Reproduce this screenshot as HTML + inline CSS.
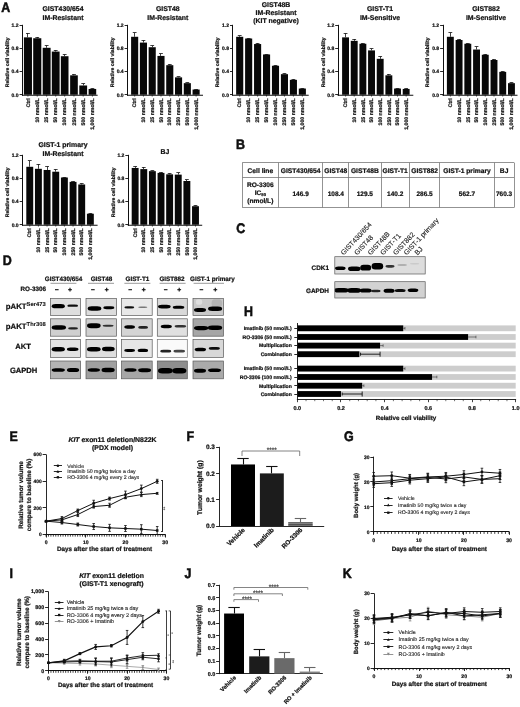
<!DOCTYPE html>
<html><head><meta charset="utf-8"><title>Figure</title>
<style>
html,body{margin:0;padding:0;background:#fff;}
svg{display:block;font-family:"Liberation Sans",sans-serif;text-rendering:geometricPrecision;}
text{paint-order:stroke;}
</style></head><body>
<svg width="520" height="707" viewBox="0 0 520 707">
<defs>
<filter id="b1" x="-20%" y="-50%" width="140%" height="200%"><feGaussianBlur stdDeviation="0.65"/></filter>
<filter id="b2" x="-20%" y="-50%" width="140%" height="200%"><feGaussianBlur stdDeviation="1.0"/></filter>
<filter id="soft"><feGaussianBlur stdDeviation="0.3"/></filter>
</defs>
<rect width="520" height="707" fill="#fff"/>
<g>
<line x1="22.50" y1="24.80" x2="22.50" y2="95.75" stroke="#111" stroke-width="1.0"/>
<line x1="21.95" y1="95.20" x2="97.65" y2="95.20" stroke="#111" stroke-width="1.1"/>
<line x1="19.55" y1="25.50" x2="22.45" y2="25.50" stroke="#111" stroke-width="0.9"/>
<line x1="19.55" y1="48.50" x2="22.45" y2="48.50" stroke="#111" stroke-width="0.9"/>
<line x1="19.55" y1="71.50" x2="22.45" y2="71.50" stroke="#111" stroke-width="0.9"/>
<line x1="19.55" y1="94.50" x2="22.45" y2="94.50" stroke="#111" stroke-width="0.9"/>
<rect x="23.90" y="37.37" width="8.06" height="57.38" fill="#080808"/>
<line x1="27.50" y1="37.37" x2="27.50" y2="33.31" stroke="#111" stroke-width="0.8"/>
<line x1="26.03" y1="33.50" x2="29.83" y2="33.50" stroke="#111" stroke-width="0.8"/>
<line x1="27.93" y1="94.75" x2="27.93" y2="96.55" stroke="#111" stroke-width="0.7"/>
<rect x="33.20" y="38.24" width="8.10" height="56.51" fill="#080808"/>
<line x1="37.50" y1="38.24" x2="37.50" y2="37.08" stroke="#111" stroke-width="0.8"/>
<line x1="35.35" y1="37.50" x2="39.15" y2="37.50" stroke="#111" stroke-width="0.8"/>
<line x1="37.25" y1="94.75" x2="37.25" y2="96.55" stroke="#111" stroke-width="0.7"/>
<rect x="42.70" y="47.80" width="7.90" height="46.95" fill="#080808"/>
<line x1="46.50" y1="47.80" x2="46.50" y2="45.49" stroke="#111" stroke-width="0.8"/>
<line x1="44.75" y1="45.50" x2="48.55" y2="45.50" stroke="#111" stroke-width="0.8"/>
<line x1="46.65" y1="94.75" x2="46.65" y2="96.55" stroke="#111" stroke-width="0.7"/>
<rect x="51.80" y="51.57" width="7.80" height="43.18" fill="#080808"/>
<line x1="55.50" y1="51.57" x2="55.50" y2="50.41" stroke="#111" stroke-width="0.8"/>
<line x1="53.80" y1="50.50" x2="57.60" y2="50.50" stroke="#111" stroke-width="0.8"/>
<line x1="55.70" y1="94.75" x2="55.70" y2="96.55" stroke="#111" stroke-width="0.7"/>
<rect x="60.85" y="56.21" width="7.65" height="38.54" fill="#080808"/>
<line x1="64.50" y1="56.21" x2="64.50" y2="54.47" stroke="#111" stroke-width="0.8"/>
<line x1="62.77" y1="54.50" x2="66.58" y2="54.50" stroke="#111" stroke-width="0.8"/>
<line x1="64.67" y1="94.75" x2="64.67" y2="96.55" stroke="#111" stroke-width="0.7"/>
<rect x="70.15" y="75.33" width="7.65" height="19.42" fill="#080808"/>
<line x1="73.50" y1="75.33" x2="73.50" y2="74.46" stroke="#111" stroke-width="0.8"/>
<line x1="72.07" y1="74.50" x2="75.88" y2="74.50" stroke="#111" stroke-width="0.8"/>
<line x1="73.97" y1="94.75" x2="73.97" y2="96.55" stroke="#111" stroke-width="0.7"/>
<rect x="79.30" y="85.48" width="7.80" height="9.27" fill="#080808"/>
<line x1="83.50" y1="85.48" x2="83.50" y2="83.74" stroke="#111" stroke-width="0.8"/>
<line x1="81.30" y1="83.50" x2="85.10" y2="83.50" stroke="#111" stroke-width="0.8"/>
<line x1="83.20" y1="94.75" x2="83.20" y2="96.55" stroke="#111" stroke-width="0.7"/>
<rect x="88.60" y="88.95" width="7.60" height="5.80" fill="#080808"/>
<line x1="92.50" y1="88.95" x2="92.50" y2="88.49" stroke="#111" stroke-width="0.8"/>
<line x1="90.50" y1="88.50" x2="94.30" y2="88.50" stroke="#111" stroke-width="0.8"/>
<line x1="92.40" y1="94.75" x2="92.40" y2="96.55" stroke="#111" stroke-width="0.7"/>
<line x1="127.50" y1="24.80" x2="127.50" y2="95.75" stroke="#111" stroke-width="1.0"/>
<line x1="127.00" y1="95.20" x2="203.00" y2="95.20" stroke="#111" stroke-width="1.1"/>
<line x1="124.60" y1="25.50" x2="127.50" y2="25.50" stroke="#111" stroke-width="0.9"/>
<line x1="124.60" y1="48.50" x2="127.50" y2="48.50" stroke="#111" stroke-width="0.9"/>
<line x1="124.60" y1="71.50" x2="127.50" y2="71.50" stroke="#111" stroke-width="0.9"/>
<line x1="124.60" y1="94.50" x2="127.50" y2="94.50" stroke="#111" stroke-width="0.9"/>
<rect x="131.10" y="36.79" width="7.10" height="57.96" fill="#080808"/>
<line x1="134.50" y1="36.79" x2="134.50" y2="32.73" stroke="#111" stroke-width="0.8"/>
<line x1="132.75" y1="32.50" x2="136.55" y2="32.50" stroke="#111" stroke-width="0.8"/>
<line x1="134.65" y1="94.75" x2="134.65" y2="96.55" stroke="#111" stroke-width="0.7"/>
<rect x="139.88" y="42.59" width="7.10" height="52.16" fill="#080808"/>
<line x1="143.50" y1="42.59" x2="143.50" y2="40.27" stroke="#111" stroke-width="0.8"/>
<line x1="141.53" y1="40.50" x2="145.33" y2="40.50" stroke="#111" stroke-width="0.8"/>
<line x1="143.43" y1="94.75" x2="143.43" y2="96.55" stroke="#111" stroke-width="0.7"/>
<rect x="148.66" y="47.22" width="7.10" height="47.53" fill="#080808"/>
<line x1="152.50" y1="47.22" x2="152.50" y2="45.78" stroke="#111" stroke-width="0.8"/>
<line x1="150.31" y1="45.50" x2="154.11" y2="45.50" stroke="#111" stroke-width="0.8"/>
<line x1="152.21" y1="94.75" x2="152.21" y2="96.55" stroke="#111" stroke-width="0.7"/>
<rect x="157.44" y="55.92" width="7.10" height="38.83" fill="#080808"/>
<line x1="160.50" y1="55.92" x2="160.50" y2="53.89" stroke="#111" stroke-width="0.8"/>
<line x1="159.09" y1="53.50" x2="162.89" y2="53.50" stroke="#111" stroke-width="0.8"/>
<line x1="160.99" y1="94.75" x2="160.99" y2="96.55" stroke="#111" stroke-width="0.7"/>
<rect x="166.22" y="65.19" width="7.10" height="29.56" fill="#080808"/>
<line x1="169.50" y1="65.19" x2="169.50" y2="64.32" stroke="#111" stroke-width="0.8"/>
<line x1="167.87" y1="64.50" x2="171.67" y2="64.50" stroke="#111" stroke-width="0.8"/>
<line x1="169.77" y1="94.75" x2="169.77" y2="96.55" stroke="#111" stroke-width="0.7"/>
<rect x="175.00" y="77.36" width="7.10" height="17.39" fill="#080808"/>
<line x1="178.50" y1="77.36" x2="178.50" y2="76.90" stroke="#111" stroke-width="0.8"/>
<line x1="176.65" y1="76.50" x2="180.45" y2="76.50" stroke="#111" stroke-width="0.8"/>
<line x1="178.55" y1="94.75" x2="178.55" y2="96.55" stroke="#111" stroke-width="0.7"/>
<rect x="183.78" y="83.16" width="7.10" height="11.59" fill="#080808"/>
<line x1="187.50" y1="83.16" x2="187.50" y2="82.69" stroke="#111" stroke-width="0.8"/>
<line x1="185.43" y1="82.50" x2="189.23" y2="82.50" stroke="#111" stroke-width="0.8"/>
<line x1="187.33" y1="94.75" x2="187.33" y2="96.55" stroke="#111" stroke-width="0.7"/>
<rect x="192.56" y="89.53" width="7.10" height="5.22" fill="#080808"/>
<line x1="196.50" y1="89.53" x2="196.50" y2="89.07" stroke="#111" stroke-width="0.8"/>
<line x1="194.21" y1="89.50" x2="198.01" y2="89.50" stroke="#111" stroke-width="0.8"/>
<line x1="196.11" y1="94.75" x2="196.11" y2="96.55" stroke="#111" stroke-width="0.7"/>
<line x1="232.50" y1="24.80" x2="232.50" y2="95.75" stroke="#111" stroke-width="1.0"/>
<line x1="232.40" y1="95.20" x2="308.70" y2="95.20" stroke="#111" stroke-width="1.1"/>
<line x1="230.00" y1="25.50" x2="232.90" y2="25.50" stroke="#111" stroke-width="0.9"/>
<line x1="230.00" y1="48.50" x2="232.90" y2="48.50" stroke="#111" stroke-width="0.9"/>
<line x1="230.00" y1="71.50" x2="232.90" y2="71.50" stroke="#111" stroke-width="0.9"/>
<line x1="230.00" y1="94.50" x2="232.90" y2="94.50" stroke="#111" stroke-width="0.9"/>
<rect x="236.15" y="36.79" width="7.10" height="57.96" fill="#080808"/>
<line x1="239.50" y1="36.79" x2="239.50" y2="35.92" stroke="#111" stroke-width="0.8"/>
<line x1="237.80" y1="35.50" x2="241.60" y2="35.50" stroke="#111" stroke-width="0.8"/>
<line x1="239.70" y1="94.75" x2="239.70" y2="96.55" stroke="#111" stroke-width="0.7"/>
<rect x="245.10" y="38.53" width="7.10" height="56.22" fill="#080808"/>
<line x1="248.50" y1="38.53" x2="248.50" y2="38.07" stroke="#111" stroke-width="0.8"/>
<line x1="246.75" y1="38.50" x2="250.55" y2="38.50" stroke="#111" stroke-width="0.8"/>
<line x1="248.65" y1="94.75" x2="248.65" y2="96.55" stroke="#111" stroke-width="0.7"/>
<rect x="254.05" y="44.04" width="7.10" height="50.71" fill="#080808"/>
<line x1="257.50" y1="44.04" x2="257.50" y2="43.17" stroke="#111" stroke-width="0.8"/>
<line x1="255.70" y1="43.50" x2="259.50" y2="43.50" stroke="#111" stroke-width="0.8"/>
<line x1="257.60" y1="94.75" x2="257.60" y2="96.55" stroke="#111" stroke-width="0.7"/>
<rect x="263.00" y="54.47" width="7.10" height="40.28" fill="#080808"/>
<line x1="266.50" y1="54.47" x2="266.50" y2="54.01" stroke="#111" stroke-width="0.8"/>
<line x1="264.65" y1="54.50" x2="268.45" y2="54.50" stroke="#111" stroke-width="0.8"/>
<line x1="266.55" y1="94.75" x2="266.55" y2="96.55" stroke="#111" stroke-width="0.7"/>
<rect x="271.95" y="65.77" width="7.10" height="28.98" fill="#080808"/>
<line x1="275.50" y1="65.77" x2="275.50" y2="65.31" stroke="#111" stroke-width="0.8"/>
<line x1="273.60" y1="65.50" x2="277.40" y2="65.50" stroke="#111" stroke-width="0.8"/>
<line x1="275.50" y1="94.75" x2="275.50" y2="96.55" stroke="#111" stroke-width="0.7"/>
<rect x="280.90" y="74.17" width="7.10" height="20.58" fill="#080808"/>
<line x1="284.50" y1="74.17" x2="284.50" y2="73.60" stroke="#111" stroke-width="0.8"/>
<line x1="282.55" y1="73.50" x2="286.35" y2="73.50" stroke="#111" stroke-width="0.8"/>
<line x1="284.45" y1="94.75" x2="284.45" y2="96.55" stroke="#111" stroke-width="0.7"/>
<rect x="289.85" y="79.85" width="7.10" height="14.90" fill="#080808"/>
<line x1="293.50" y1="79.85" x2="293.50" y2="79.16" stroke="#111" stroke-width="0.8"/>
<line x1="291.50" y1="79.50" x2="295.30" y2="79.50" stroke="#111" stroke-width="0.8"/>
<line x1="293.40" y1="94.75" x2="293.40" y2="96.55" stroke="#111" stroke-width="0.7"/>
<rect x="298.80" y="88.55" width="7.10" height="6.20" fill="#080808"/>
<line x1="302.50" y1="88.55" x2="302.50" y2="88.08" stroke="#111" stroke-width="0.8"/>
<line x1="300.45" y1="88.50" x2="304.25" y2="88.50" stroke="#111" stroke-width="0.8"/>
<line x1="302.35" y1="94.75" x2="302.35" y2="96.55" stroke="#111" stroke-width="0.7"/>
<line x1="338.50" y1="24.80" x2="338.50" y2="95.75" stroke="#111" stroke-width="1.0"/>
<line x1="337.60" y1="95.20" x2="413.30" y2="95.20" stroke="#111" stroke-width="1.1"/>
<line x1="335.20" y1="25.50" x2="338.10" y2="25.50" stroke="#111" stroke-width="0.9"/>
<line x1="335.20" y1="48.50" x2="338.10" y2="48.50" stroke="#111" stroke-width="0.9"/>
<line x1="335.20" y1="71.50" x2="338.10" y2="71.50" stroke="#111" stroke-width="0.9"/>
<line x1="335.20" y1="94.50" x2="338.10" y2="94.50" stroke="#111" stroke-width="0.9"/>
<rect x="342.10" y="37.37" width="6.90" height="57.38" fill="#080808"/>
<line x1="345.50" y1="37.37" x2="345.50" y2="33.31" stroke="#111" stroke-width="0.8"/>
<line x1="343.65" y1="33.50" x2="347.45" y2="33.50" stroke="#111" stroke-width="0.8"/>
<line x1="345.55" y1="94.75" x2="345.55" y2="96.55" stroke="#111" stroke-width="0.7"/>
<rect x="350.76" y="40.85" width="6.90" height="53.90" fill="#080808"/>
<line x1="354.50" y1="40.85" x2="354.50" y2="39.11" stroke="#111" stroke-width="0.8"/>
<line x1="352.31" y1="39.50" x2="356.11" y2="39.50" stroke="#111" stroke-width="0.8"/>
<line x1="354.21" y1="94.75" x2="354.21" y2="96.55" stroke="#111" stroke-width="0.7"/>
<rect x="359.42" y="43.75" width="6.90" height="51.00" fill="#080808"/>
<line x1="362.50" y1="43.75" x2="362.50" y2="43.17" stroke="#111" stroke-width="0.8"/>
<line x1="360.97" y1="43.50" x2="364.77" y2="43.50" stroke="#111" stroke-width="0.8"/>
<line x1="362.87" y1="94.75" x2="362.87" y2="96.55" stroke="#111" stroke-width="0.7"/>
<rect x="368.08" y="50.41" width="6.90" height="44.34" fill="#080808"/>
<line x1="371.50" y1="50.41" x2="371.50" y2="48.67" stroke="#111" stroke-width="0.8"/>
<line x1="369.63" y1="48.50" x2="373.43" y2="48.50" stroke="#111" stroke-width="0.8"/>
<line x1="371.53" y1="94.75" x2="371.53" y2="96.55" stroke="#111" stroke-width="0.7"/>
<rect x="376.74" y="58.82" width="6.90" height="35.93" fill="#080808"/>
<line x1="380.50" y1="58.82" x2="380.50" y2="56.50" stroke="#111" stroke-width="0.8"/>
<line x1="378.29" y1="56.50" x2="382.09" y2="56.50" stroke="#111" stroke-width="0.8"/>
<line x1="380.19" y1="94.75" x2="380.19" y2="96.55" stroke="#111" stroke-width="0.7"/>
<rect x="385.40" y="75.33" width="6.90" height="19.42" fill="#080808"/>
<line x1="388.50" y1="75.33" x2="388.50" y2="74.17" stroke="#111" stroke-width="0.8"/>
<line x1="386.95" y1="74.50" x2="390.75" y2="74.50" stroke="#111" stroke-width="0.8"/>
<line x1="388.85" y1="94.75" x2="388.85" y2="96.55" stroke="#111" stroke-width="0.7"/>
<rect x="394.06" y="88.55" width="6.90" height="6.20" fill="#080808"/>
<line x1="397.50" y1="88.55" x2="397.50" y2="88.20" stroke="#111" stroke-width="0.8"/>
<line x1="395.61" y1="88.50" x2="399.41" y2="88.50" stroke="#111" stroke-width="0.8"/>
<line x1="397.51" y1="94.75" x2="397.51" y2="96.55" stroke="#111" stroke-width="0.7"/>
<rect x="402.72" y="88.95" width="6.90" height="5.80" fill="#080808"/>
<line x1="406.50" y1="88.95" x2="406.50" y2="88.61" stroke="#111" stroke-width="0.8"/>
<line x1="404.27" y1="88.50" x2="408.07" y2="88.50" stroke="#111" stroke-width="0.8"/>
<line x1="406.17" y1="94.75" x2="406.17" y2="96.55" stroke="#111" stroke-width="0.7"/>
<line x1="443.50" y1="24.80" x2="443.50" y2="95.75" stroke="#111" stroke-width="1.0"/>
<line x1="442.50" y1="95.20" x2="517.50" y2="95.20" stroke="#111" stroke-width="1.1"/>
<line x1="440.10" y1="25.50" x2="443.00" y2="25.50" stroke="#111" stroke-width="0.9"/>
<line x1="440.10" y1="48.50" x2="443.00" y2="48.50" stroke="#111" stroke-width="0.9"/>
<line x1="440.10" y1="71.50" x2="443.00" y2="71.50" stroke="#111" stroke-width="0.9"/>
<line x1="440.10" y1="94.50" x2="443.00" y2="94.50" stroke="#111" stroke-width="0.9"/>
<rect x="446.90" y="36.79" width="6.90" height="57.96" fill="#080808"/>
<line x1="450.50" y1="36.79" x2="450.50" y2="32.73" stroke="#111" stroke-width="0.8"/>
<line x1="448.45" y1="32.50" x2="452.25" y2="32.50" stroke="#111" stroke-width="0.8"/>
<line x1="450.35" y1="94.75" x2="450.35" y2="96.55" stroke="#111" stroke-width="0.7"/>
<rect x="455.63" y="39.98" width="6.90" height="54.77" fill="#080808"/>
<line x1="459.50" y1="39.98" x2="459.50" y2="39.28" stroke="#111" stroke-width="0.8"/>
<line x1="457.18" y1="39.50" x2="460.98" y2="39.50" stroke="#111" stroke-width="0.8"/>
<line x1="459.08" y1="94.75" x2="459.08" y2="96.55" stroke="#111" stroke-width="0.7"/>
<rect x="464.36" y="43.75" width="6.90" height="51.00" fill="#080808"/>
<line x1="467.50" y1="43.75" x2="467.50" y2="43.28" stroke="#111" stroke-width="0.8"/>
<line x1="465.91" y1="43.50" x2="469.71" y2="43.50" stroke="#111" stroke-width="0.8"/>
<line x1="467.81" y1="94.75" x2="467.81" y2="96.55" stroke="#111" stroke-width="0.7"/>
<rect x="473.09" y="49.54" width="6.90" height="45.21" fill="#080808"/>
<line x1="476.50" y1="49.54" x2="476.50" y2="46.64" stroke="#111" stroke-width="0.8"/>
<line x1="474.64" y1="46.50" x2="478.44" y2="46.50" stroke="#111" stroke-width="0.8"/>
<line x1="476.54" y1="94.75" x2="476.54" y2="96.55" stroke="#111" stroke-width="0.7"/>
<rect x="481.82" y="54.76" width="6.90" height="39.99" fill="#080808"/>
<line x1="485.50" y1="54.76" x2="485.50" y2="54.06" stroke="#111" stroke-width="0.8"/>
<line x1="483.37" y1="54.50" x2="487.17" y2="54.50" stroke="#111" stroke-width="0.8"/>
<line x1="485.27" y1="94.75" x2="485.27" y2="96.55" stroke="#111" stroke-width="0.7"/>
<rect x="490.55" y="59.98" width="6.90" height="34.77" fill="#080808"/>
<line x1="493.50" y1="59.98" x2="493.50" y2="59.28" stroke="#111" stroke-width="0.8"/>
<line x1="492.10" y1="59.50" x2="495.90" y2="59.50" stroke="#111" stroke-width="0.8"/>
<line x1="494.00" y1="94.75" x2="494.00" y2="96.55" stroke="#111" stroke-width="0.7"/>
<rect x="499.28" y="71.86" width="6.90" height="22.89" fill="#080808"/>
<line x1="502.50" y1="71.86" x2="502.50" y2="71.39" stroke="#111" stroke-width="0.8"/>
<line x1="500.83" y1="71.50" x2="504.63" y2="71.50" stroke="#111" stroke-width="0.8"/>
<line x1="502.73" y1="94.75" x2="502.73" y2="96.55" stroke="#111" stroke-width="0.7"/>
<rect x="508.01" y="83.16" width="6.90" height="11.59" fill="#080808"/>
<line x1="511.50" y1="83.16" x2="511.50" y2="82.69" stroke="#111" stroke-width="0.8"/>
<line x1="509.56" y1="82.50" x2="513.36" y2="82.50" stroke="#111" stroke-width="0.8"/>
<line x1="511.46" y1="94.75" x2="511.46" y2="96.55" stroke="#111" stroke-width="0.7"/>
<line x1="22.50" y1="154.80" x2="22.50" y2="225.75" stroke="#111" stroke-width="1.0"/>
<line x1="22.05" y1="225.20" x2="97.60" y2="225.20" stroke="#111" stroke-width="1.1"/>
<line x1="19.65" y1="155.50" x2="22.55" y2="155.50" stroke="#111" stroke-width="0.9"/>
<line x1="19.65" y1="178.50" x2="22.55" y2="178.50" stroke="#111" stroke-width="0.9"/>
<line x1="19.65" y1="201.50" x2="22.55" y2="201.50" stroke="#111" stroke-width="0.9"/>
<line x1="19.65" y1="224.50" x2="22.55" y2="224.50" stroke="#111" stroke-width="0.9"/>
<rect x="26.30" y="166.79" width="6.90" height="57.96" fill="#080808"/>
<line x1="29.50" y1="166.79" x2="29.50" y2="161.00" stroke="#111" stroke-width="0.8"/>
<line x1="27.85" y1="160.50" x2="31.65" y2="160.50" stroke="#111" stroke-width="0.8"/>
<line x1="29.75" y1="224.75" x2="29.75" y2="226.55" stroke="#111" stroke-width="0.7"/>
<rect x="34.96" y="168.82" width="6.90" height="55.93" fill="#080808"/>
<line x1="38.50" y1="168.82" x2="38.50" y2="164.18" stroke="#111" stroke-width="0.8"/>
<line x1="36.51" y1="164.50" x2="40.31" y2="164.50" stroke="#111" stroke-width="0.8"/>
<line x1="38.41" y1="224.75" x2="38.41" y2="226.55" stroke="#111" stroke-width="0.7"/>
<rect x="43.62" y="169.98" width="6.90" height="54.77" fill="#080808"/>
<line x1="47.50" y1="169.98" x2="47.50" y2="166.50" stroke="#111" stroke-width="0.8"/>
<line x1="45.17" y1="166.50" x2="48.97" y2="166.50" stroke="#111" stroke-width="0.8"/>
<line x1="47.07" y1="224.75" x2="47.07" y2="226.55" stroke="#111" stroke-width="0.7"/>
<rect x="52.28" y="171.72" width="6.90" height="53.03" fill="#080808"/>
<line x1="55.50" y1="171.72" x2="55.50" y2="169.40" stroke="#111" stroke-width="0.8"/>
<line x1="53.83" y1="169.50" x2="57.63" y2="169.50" stroke="#111" stroke-width="0.8"/>
<line x1="55.73" y1="224.75" x2="55.73" y2="226.55" stroke="#111" stroke-width="0.7"/>
<rect x="60.94" y="177.51" width="6.90" height="47.24" fill="#080808"/>
<line x1="64.50" y1="177.51" x2="64.50" y2="177.17" stroke="#111" stroke-width="0.8"/>
<line x1="62.49" y1="177.50" x2="66.29" y2="177.50" stroke="#111" stroke-width="0.8"/>
<line x1="64.39" y1="224.75" x2="64.39" y2="226.55" stroke="#111" stroke-width="0.7"/>
<rect x="69.60" y="181.86" width="6.90" height="42.89" fill="#080808"/>
<line x1="73.50" y1="181.86" x2="73.50" y2="181.40" stroke="#111" stroke-width="0.8"/>
<line x1="71.15" y1="181.50" x2="74.95" y2="181.50" stroke="#111" stroke-width="0.8"/>
<line x1="73.05" y1="224.75" x2="73.05" y2="226.55" stroke="#111" stroke-width="0.7"/>
<rect x="78.26" y="184.47" width="6.90" height="40.28" fill="#080808"/>
<line x1="81.50" y1="184.47" x2="81.50" y2="183.60" stroke="#111" stroke-width="0.8"/>
<line x1="79.81" y1="183.50" x2="83.61" y2="183.50" stroke="#111" stroke-width="0.8"/>
<line x1="81.71" y1="224.75" x2="81.71" y2="226.55" stroke="#111" stroke-width="0.7"/>
<rect x="86.92" y="213.74" width="6.90" height="11.01" fill="#080808"/>
<line x1="90.50" y1="213.74" x2="90.50" y2="213.27" stroke="#111" stroke-width="0.8"/>
<line x1="88.47" y1="213.50" x2="92.27" y2="213.50" stroke="#111" stroke-width="0.8"/>
<line x1="90.37" y1="224.75" x2="90.37" y2="226.55" stroke="#111" stroke-width="0.7"/>
<line x1="128.50" y1="154.80" x2="128.50" y2="225.75" stroke="#111" stroke-width="1.0"/>
<line x1="127.75" y1="225.20" x2="202.20" y2="225.20" stroke="#111" stroke-width="1.1"/>
<line x1="125.35" y1="155.50" x2="128.25" y2="155.50" stroke="#111" stroke-width="0.9"/>
<line x1="125.35" y1="178.50" x2="128.25" y2="178.50" stroke="#111" stroke-width="0.9"/>
<line x1="125.35" y1="201.50" x2="128.25" y2="201.50" stroke="#111" stroke-width="0.9"/>
<line x1="125.35" y1="224.50" x2="128.25" y2="224.50" stroke="#111" stroke-width="0.9"/>
<rect x="131.70" y="167.95" width="6.90" height="56.80" fill="#080808"/>
<line x1="135.50" y1="167.95" x2="135.50" y2="166.50" stroke="#111" stroke-width="0.8"/>
<line x1="133.25" y1="166.50" x2="137.05" y2="166.50" stroke="#111" stroke-width="0.8"/>
<line x1="135.15" y1="224.75" x2="135.15" y2="226.55" stroke="#111" stroke-width="0.7"/>
<rect x="140.32" y="169.11" width="6.90" height="55.64" fill="#080808"/>
<line x1="143.50" y1="169.11" x2="143.50" y2="167.08" stroke="#111" stroke-width="0.8"/>
<line x1="141.87" y1="167.50" x2="145.67" y2="167.50" stroke="#111" stroke-width="0.8"/>
<line x1="143.77" y1="224.75" x2="143.77" y2="226.55" stroke="#111" stroke-width="0.7"/>
<rect x="148.94" y="171.14" width="6.90" height="53.61" fill="#080808"/>
<line x1="152.50" y1="171.14" x2="152.50" y2="170.67" stroke="#111" stroke-width="0.8"/>
<line x1="150.49" y1="170.50" x2="154.29" y2="170.50" stroke="#111" stroke-width="0.8"/>
<line x1="152.39" y1="224.75" x2="152.39" y2="226.55" stroke="#111" stroke-width="0.7"/>
<rect x="157.56" y="172.88" width="6.90" height="51.87" fill="#080808"/>
<line x1="161.50" y1="172.88" x2="161.50" y2="172.18" stroke="#111" stroke-width="0.8"/>
<line x1="159.11" y1="172.50" x2="162.91" y2="172.50" stroke="#111" stroke-width="0.8"/>
<line x1="161.01" y1="224.75" x2="161.01" y2="226.55" stroke="#111" stroke-width="0.7"/>
<rect x="166.18" y="174.33" width="6.90" height="50.42" fill="#080808"/>
<line x1="169.50" y1="174.33" x2="169.50" y2="173.46" stroke="#111" stroke-width="0.8"/>
<line x1="167.73" y1="173.50" x2="171.53" y2="173.50" stroke="#111" stroke-width="0.8"/>
<line x1="169.63" y1="224.75" x2="169.63" y2="226.55" stroke="#111" stroke-width="0.7"/>
<rect x="174.80" y="174.62" width="6.90" height="50.13" fill="#080808"/>
<line x1="178.50" y1="174.62" x2="178.50" y2="172.88" stroke="#111" stroke-width="0.8"/>
<line x1="176.35" y1="172.50" x2="180.15" y2="172.50" stroke="#111" stroke-width="0.8"/>
<line x1="178.25" y1="224.75" x2="178.25" y2="226.55" stroke="#111" stroke-width="0.7"/>
<rect x="183.42" y="180.99" width="6.90" height="43.76" fill="#080808"/>
<line x1="186.50" y1="180.99" x2="186.50" y2="179.83" stroke="#111" stroke-width="0.8"/>
<line x1="184.97" y1="179.50" x2="188.77" y2="179.50" stroke="#111" stroke-width="0.8"/>
<line x1="186.87" y1="224.75" x2="186.87" y2="226.55" stroke="#111" stroke-width="0.7"/>
<rect x="192.04" y="206.20" width="6.90" height="18.55" fill="#080808"/>
<line x1="195.50" y1="206.20" x2="195.50" y2="205.51" stroke="#111" stroke-width="0.8"/>
<line x1="193.59" y1="205.50" x2="197.39" y2="205.50" stroke="#111" stroke-width="0.8"/>
<line x1="195.49" y1="224.75" x2="195.49" y2="226.55" stroke="#111" stroke-width="0.7"/>
<line x1="242.50" y1="162.60" x2="242.50" y2="207.60" stroke="#777" stroke-width="0.8"/>
<line x1="278.50" y1="162.60" x2="278.50" y2="207.60" stroke="#777" stroke-width="0.8"/>
<line x1="322.50" y1="162.60" x2="322.50" y2="207.60" stroke="#777" stroke-width="0.8"/>
<line x1="348.50" y1="162.60" x2="348.50" y2="207.60" stroke="#777" stroke-width="0.8"/>
<line x1="381.50" y1="162.60" x2="381.50" y2="207.60" stroke="#777" stroke-width="0.8"/>
<line x1="409.50" y1="162.60" x2="409.50" y2="207.60" stroke="#777" stroke-width="0.8"/>
<line x1="439.50" y1="162.60" x2="439.50" y2="207.60" stroke="#777" stroke-width="0.8"/>
<line x1="494.50" y1="162.60" x2="494.50" y2="207.60" stroke="#777" stroke-width="0.8"/>
<line x1="514.50" y1="162.60" x2="514.50" y2="207.60" stroke="#777" stroke-width="0.8"/>
<line x1="242.30" y1="162.50" x2="514.00" y2="162.50" stroke="#777" stroke-width="0.8"/>
<line x1="242.30" y1="177.50" x2="514.00" y2="177.50" stroke="#777" stroke-width="0.8"/>
<line x1="242.30" y1="207.50" x2="514.00" y2="207.50" stroke="#777" stroke-width="0.8"/>
<clipPath id="c3348_2567"><rect x="334.80" y="256.70" width="90.40" height="17.30"/></clipPath>
<rect x="334.80" y="256.70" width="90.40" height="17.30" fill="#dddddd"/>
<g clip-path="url(#c3348_2567)"><g filter="url(#b1)">
<rect x="335.00" y="266.50" width="10.60" height="3.60" rx="3.18" ry="1.80" fill="#000"/>
<rect x="348.00" y="266.50" width="12.60" height="4.60" rx="3.78" ry="2.30" fill="#000"/>
<rect x="360.20" y="264.80" width="11.00" height="5.80" rx="3.30" ry="2.90" fill="#000"/>
<rect x="371.60" y="263.00" width="11.60" height="6.60" rx="3.48" ry="3.30" fill="#000"/>
<rect x="385.40" y="264.90" width="9.20" height="2.80" rx="2.76" ry="1.40" fill="#333"/>
<rect x="397.30" y="264.00" width="9.70" height="2.00" rx="2.91" ry="1.00" fill="#b0b0b0"/>
<rect x="409.80" y="263.00" width="9.60" height="1.60" rx="2.88" ry="0.80" fill="#cacaca"/>
</g></g>
<rect x="334.80" y="256.70" width="90.40" height="17.30" fill="none" stroke="#5a5a5a" stroke-width="0.7"/>
<clipPath id="c3348_2817"><rect x="334.80" y="281.70" width="90.40" height="16.30"/></clipPath>
<rect x="334.80" y="281.70" width="90.40" height="16.30" fill="#d2d2d2"/>
<g clip-path="url(#c3348_2817)"><g filter="url(#b1)">
<rect x="334.00" y="288.00" width="14.60" height="4.60" rx="4.38" ry="2.30" fill="#000"/>
<rect x="347.40" y="288.10" width="13.40" height="4.60" rx="4.02" ry="2.30" fill="#000"/>
<rect x="359.60" y="288.50" width="12.00" height="4.00" rx="3.60" ry="2.00" fill="#000"/>
<rect x="371.00" y="289.70" width="9.60" height="2.60" rx="2.88" ry="1.30" fill="#222"/>
<rect x="383.60" y="288.80" width="11.00" height="4.00" rx="3.30" ry="2.00" fill="#000"/>
<rect x="394.80" y="289.10" width="10.80" height="3.00" rx="3.24" ry="1.50" fill="#111"/>
<rect x="407.70" y="288.40" width="10.60" height="3.60" rx="3.18" ry="1.80" fill="#000"/>
</g></g>
<rect x="334.80" y="281.70" width="90.40" height="16.30" fill="none" stroke="#5a5a5a" stroke-width="0.7"/>
<line x1="50.50" y1="283.30" x2="76.40" y2="283.30" stroke="#555" stroke-width="0.6"/>
<line x1="55.00" y1="289.70" x2="58.60" y2="289.70" stroke="#111" stroke-width="1.1"/>
<line x1="68.10" y1="289.70" x2="71.90" y2="289.70" stroke="#111" stroke-width="1.1"/>
<line x1="70.00" y1="287.80" x2="70.00" y2="291.60" stroke="#111" stroke-width="1.1"/>
<line x1="88.00" y1="283.30" x2="114.00" y2="283.30" stroke="#555" stroke-width="0.6"/>
<line x1="91.10" y1="289.70" x2="94.70" y2="289.70" stroke="#111" stroke-width="1.1"/>
<line x1="104.80" y1="289.70" x2="108.60" y2="289.70" stroke="#111" stroke-width="1.1"/>
<line x1="106.70" y1="287.80" x2="106.70" y2="291.60" stroke="#111" stroke-width="1.1"/>
<line x1="124.40" y1="283.30" x2="150.40" y2="283.30" stroke="#555" stroke-width="0.6"/>
<line x1="128.40" y1="289.70" x2="132.00" y2="289.70" stroke="#111" stroke-width="1.1"/>
<line x1="141.80" y1="289.70" x2="145.60" y2="289.70" stroke="#111" stroke-width="1.1"/>
<line x1="143.70" y1="287.80" x2="143.70" y2="291.60" stroke="#111" stroke-width="1.1"/>
<line x1="159.60" y1="283.30" x2="185.60" y2="283.30" stroke="#555" stroke-width="0.6"/>
<line x1="163.90" y1="289.70" x2="167.50" y2="289.70" stroke="#111" stroke-width="1.1"/>
<line x1="177.30" y1="289.70" x2="181.10" y2="289.70" stroke="#111" stroke-width="1.1"/>
<line x1="179.20" y1="287.80" x2="179.20" y2="291.60" stroke="#111" stroke-width="1.1"/>
<line x1="193.60" y1="283.30" x2="224.00" y2="283.30" stroke="#555" stroke-width="0.6"/>
<line x1="199.60" y1="289.70" x2="203.20" y2="289.70" stroke="#111" stroke-width="1.1"/>
<line x1="213.40" y1="289.70" x2="217.20" y2="289.70" stroke="#111" stroke-width="1.1"/>
<line x1="215.30" y1="287.80" x2="215.30" y2="291.60" stroke="#111" stroke-width="1.1"/>
<clipPath id="c506_2985"><rect x="50.60" y="298.50" width="30.00" height="16.90"/></clipPath>
<rect x="50.60" y="298.50" width="30.00" height="16.90" fill="#dedede"/>
<g clip-path="url(#c506_2985)"><g filter="url(#b1)">
<rect x="51.70" y="304.09" width="13.15" height="4.14" rx="3.95" ry="2.07" fill="#000"/>
<rect x="67.39" y="304.52" width="10.62" height="2.34" rx="3.18" ry="1.17" fill="#111"/>
</g></g>
<rect x="50.60" y="298.50" width="30.00" height="16.90" fill="none" stroke="#5a5a5a" stroke-width="0.7"/>
<clipPath id="c506_3188"><rect x="50.60" y="318.80" width="30.00" height="17.40"/></clipPath>
<rect x="50.60" y="318.80" width="30.00" height="17.40" fill="#cfcfcf"/>
<g clip-path="url(#c506_3188)"><g filter="url(#b1)">
<rect x="51.70" y="325.14" width="14.31" height="4.50" rx="4.29" ry="2.25" fill="#000"/>
<rect x="68.08" y="327.14" width="9.92" height="2.34" rx="2.98" ry="1.17" fill="#222"/>
</g></g>
<rect x="50.60" y="318.80" width="30.00" height="17.40" fill="none" stroke="#5a5a5a" stroke-width="0.7"/>
<clipPath id="c506_3396"><rect x="50.60" y="339.60" width="30.00" height="17.80"/></clipPath>
<rect x="50.60" y="339.60" width="30.00" height="17.80" fill="#e2e2e2"/>
<g clip-path="url(#c506_3396)"><g filter="url(#b1)">
<rect x="51.70" y="347.06" width="13.15" height="4.50" rx="3.95" ry="2.25" fill="#000"/>
<rect x="66.93" y="347.60" width="11.54" height="3.42" rx="3.46" ry="1.71" fill="#000"/>
</g></g>
<rect x="50.60" y="339.60" width="30.00" height="17.80" fill="none" stroke="#5a5a5a" stroke-width="0.7"/>
<clipPath id="c506_3610"><rect x="50.60" y="361.00" width="30.00" height="17.80"/></clipPath>
<rect x="50.60" y="361.00" width="30.00" height="17.80" fill="#b4b4b4"/>
<g clip-path="url(#c506_3610)"><g filter="url(#b1)">
<rect x="51.70" y="368.33" width="13.15" height="3.51" rx="3.95" ry="1.75" fill="#000"/>
<rect x="66.93" y="368.06" width="12.23" height="4.05" rx="3.67" ry="2.02" fill="#000"/>
</g></g>
<rect x="50.60" y="361.00" width="30.00" height="17.80" fill="none" stroke="#5a5a5a" stroke-width="0.7"/>
<clipPath id="c860_2985"><rect x="86.00" y="298.50" width="30.40" height="16.90"/></clipPath>
<rect x="86.00" y="298.50" width="30.40" height="16.90" fill="#dcdcdc"/>
<g clip-path="url(#c860_2985)"><g filter="url(#b1)">
<rect x="87.70" y="306.21" width="13.62" height="4.50" rx="4.08" ry="2.25" fill="#000"/>
<rect x="103.39" y="306.33" width="10.85" height="2.88" rx="3.25" ry="1.44" fill="#000"/>
</g></g>
<rect x="86.00" y="298.50" width="30.40" height="16.90" fill="none" stroke="#5a5a5a" stroke-width="0.7"/>
<clipPath id="c860_3188"><rect x="86.00" y="318.80" width="30.40" height="17.40"/></clipPath>
<rect x="86.00" y="318.80" width="30.40" height="17.40" fill="#d0d0d0"/>
<g clip-path="url(#c860_3188)"><g filter="url(#b1)">
<rect x="87.01" y="323.34" width="13.62" height="4.86" rx="4.08" ry="2.43" fill="#000"/>
<rect x="102.70" y="324.78" width="10.85" height="1.98" rx="3.25" ry="0.99" fill="#333"/>
</g></g>
<rect x="86.00" y="318.80" width="30.40" height="17.40" fill="none" stroke="#5a5a5a" stroke-width="0.7"/>
<clipPath id="c860_3396"><rect x="86.00" y="339.60" width="30.40" height="17.80"/></clipPath>
<rect x="86.00" y="339.60" width="30.40" height="17.80" fill="#dedede"/>
<g clip-path="url(#c860_3396)"><g filter="url(#b1)">
<rect x="87.01" y="347.06" width="13.62" height="4.50" rx="4.08" ry="2.25" fill="#000"/>
<rect x="102.01" y="346.83" width="12.69" height="4.50" rx="3.81" ry="2.25" fill="#000"/>
</g></g>
<rect x="86.00" y="339.60" width="30.40" height="17.80" fill="none" stroke="#5a5a5a" stroke-width="0.7"/>
<clipPath id="c860_3610"><rect x="86.00" y="361.00" width="30.40" height="17.80"/></clipPath>
<rect x="86.00" y="361.00" width="30.40" height="17.80" fill="#a0a0a0"/>
<g clip-path="url(#c860_3610)"><g filter="url(#b1)">
<rect x="87.70" y="368.37" width="12.23" height="3.42" rx="3.67" ry="1.71" fill="#000"/>
<rect x="101.55" y="367.83" width="13.15" height="4.50" rx="3.95" ry="2.25" fill="#000"/>
</g></g>
<rect x="86.00" y="361.00" width="30.40" height="17.80" fill="none" stroke="#5a5a5a" stroke-width="0.7"/>
<clipPath id="c1215_2985"><rect x="121.50" y="298.50" width="30.70" height="16.90"/></clipPath>
<rect x="121.50" y="298.50" width="30.70" height="16.90" fill="#e8e8e8"/>
<g clip-path="url(#c1215_2985)"><g filter="url(#b1)">
<rect x="124.31" y="306.14" width="9.92" height="2.34" rx="2.98" ry="1.17" fill="#111"/>
<rect x="138.16" y="306.50" width="9.23" height="1.62" rx="2.77" ry="0.81" fill="#777"/>
</g></g>
<rect x="121.50" y="298.50" width="30.70" height="16.90" fill="none" stroke="#5a5a5a" stroke-width="0.7"/>
<clipPath id="c1215_3188"><rect x="121.50" y="318.80" width="30.70" height="17.40"/></clipPath>
<rect x="121.50" y="318.80" width="30.70" height="17.40" fill="#d4d4d4"/>
<g clip-path="url(#c1215_3188)"><g filter="url(#b1)">
<rect x="124.31" y="325.22" width="10.62" height="3.42" rx="3.18" ry="1.71" fill="#000"/>
<rect x="138.16" y="326.04" width="9.92" height="2.70" rx="2.98" ry="1.35" fill="#222"/>
</g></g>
<rect x="121.50" y="318.80" width="30.70" height="17.40" fill="none" stroke="#5a5a5a" stroke-width="0.7"/>
<clipPath id="c1215_3396"><rect x="121.50" y="339.60" width="30.70" height="17.80"/></clipPath>
<rect x="121.50" y="339.60" width="30.70" height="17.80" fill="#e6e6e6"/>
<g clip-path="url(#c1215_3396)"><g filter="url(#b1)">
<rect x="124.31" y="349.03" width="10.62" height="2.88" rx="3.18" ry="1.44" fill="#000"/>
<rect x="137.69" y="348.85" width="10.39" height="3.24" rx="3.12" ry="1.62" fill="#000"/>
</g></g>
<rect x="121.50" y="339.60" width="30.70" height="17.80" fill="none" stroke="#5a5a5a" stroke-width="0.7"/>
<clipPath id="c1215_3610"><rect x="121.50" y="361.00" width="30.70" height="17.80"/></clipPath>
<rect x="121.50" y="361.00" width="30.70" height="17.80" fill="#a6a6a6"/>
<g clip-path="url(#c1215_3610)"><g filter="url(#b1)">
<rect x="124.31" y="368.37" width="12.23" height="3.42" rx="3.67" ry="1.71" fill="#000"/>
<rect x="138.16" y="368.33" width="12.92" height="3.96" rx="3.88" ry="1.98" fill="#000"/>
</g></g>
<rect x="121.50" y="361.00" width="30.70" height="17.80" fill="none" stroke="#5a5a5a" stroke-width="0.7"/>
<clipPath id="c1573_2985"><rect x="157.30" y="298.50" width="30.00" height="16.90"/></clipPath>
<rect x="157.30" y="298.50" width="30.00" height="16.90" fill="#d8d8d8"/>
<g clip-path="url(#c1573_2985)"><g filter="url(#b1)">
<rect x="158.00" y="304.64" width="12.69" height="3.96" rx="3.81" ry="1.98" fill="#000"/>
<rect x="172.77" y="305.78" width="11.54" height="3.06" rx="3.46" ry="1.53" fill="#000"/>
</g></g>
<rect x="157.30" y="298.50" width="30.00" height="16.90" fill="none" stroke="#5a5a5a" stroke-width="0.7"/>
<clipPath id="c1573_3188"><rect x="157.30" y="318.80" width="30.00" height="17.40"/></clipPath>
<rect x="157.30" y="318.80" width="30.00" height="17.40" fill="#e0e0e0"/>
<g clip-path="url(#c1573_3188)"><g filter="url(#b1)">
<rect x="160.77" y="324.75" width="11.08" height="3.42" rx="3.32" ry="1.71" fill="#000"/>
<rect x="174.62" y="324.97" width="11.54" height="2.52" rx="3.46" ry="1.26" fill="#333"/>
</g></g>
<rect x="157.30" y="318.80" width="30.00" height="17.40" fill="none" stroke="#5a5a5a" stroke-width="0.7"/>
<clipPath id="c1573_3396"><rect x="157.30" y="339.60" width="30.00" height="17.80"/></clipPath>
<rect x="157.30" y="339.60" width="30.00" height="17.80" fill="#fafafa"/>
<g clip-path="url(#c1573_3396)"><g filter="url(#b1)">
<rect x="160.31" y="349.72" width="10.85" height="2.88" rx="3.25" ry="1.44" fill="#222"/>
<rect x="173.47" y="349.81" width="11.54" height="2.70" rx="3.46" ry="1.35" fill="#444"/>
</g></g>
<rect x="157.30" y="339.60" width="30.00" height="17.80" fill="none" stroke="#777" stroke-width="0.7"/>
<clipPath id="c1573_3610"><rect x="157.30" y="361.00" width="30.00" height="17.80"/></clipPath>
<rect x="157.30" y="361.00" width="30.00" height="17.80" fill="#8e8e8e"/>
<g clip-path="url(#c1573_3610)"><g filter="url(#b1)">
<rect x="158.00" y="368.08" width="14.77" height="5.40" rx="4.43" ry="2.70" fill="#000"/>
<rect x="172.31" y="368.08" width="14.08" height="5.40" rx="4.22" ry="2.70" fill="#000"/>
</g></g>
<rect x="157.30" y="361.00" width="30.00" height="17.80" fill="none" stroke="#5a5a5a" stroke-width="0.7"/>
<clipPath id="c1930_2985"><rect x="193.00" y="298.50" width="30.50" height="16.90"/></clipPath>
<rect x="193.00" y="298.50" width="30.50" height="16.90" fill="#c9c9c9"/>
<g clip-path="url(#c1930_2985)"><g filter="url(#b1)">
<rect x="211.55" y="299.34" width="10.62" height="8.10" rx="3.18" ry="4.05" fill="#b4b4b4"/>
<rect x="195.85" y="299.30" width="6.46" height="5.40" rx="1.94" ry="2.70" fill="#dedede"/>
<rect x="194.01" y="308.10" width="12.00" height="3.96" rx="3.60" ry="1.98" fill="#000"/>
<rect x="208.08" y="306.44" width="14.08" height="4.50" rx="4.22" ry="2.25" fill="#000"/>
</g></g>
<rect x="193.00" y="298.50" width="30.50" height="16.90" fill="none" stroke="#5a5a5a" stroke-width="0.7"/>
<clipPath id="c1930_3188"><rect x="193.00" y="318.80" width="30.50" height="17.40"/></clipPath>
<rect x="193.00" y="318.80" width="30.50" height="17.40" fill="#a6a6a6"/>
<g clip-path="url(#c1930_3188)"><g filter="url(#b1)">
<rect x="194.01" y="325.92" width="14.31" height="4.32" rx="4.29" ry="2.16" fill="#000"/>
<rect x="207.85" y="325.60" width="14.31" height="4.50" rx="4.29" ry="2.25" fill="#000"/>
</g></g>
<rect x="193.00" y="318.80" width="30.50" height="17.40" fill="none" stroke="#5a5a5a" stroke-width="0.7"/>
<clipPath id="c1930_3396"><rect x="193.00" y="339.60" width="30.50" height="17.80"/></clipPath>
<rect x="193.00" y="339.60" width="30.50" height="17.80" fill="#d8d8d8"/>
<g clip-path="url(#c1930_3396)"><g filter="url(#b1)">
<rect x="194.70" y="347.74" width="11.31" height="3.60" rx="3.39" ry="1.80" fill="#000"/>
<rect x="208.78" y="347.04" width="11.08" height="2.70" rx="3.32" ry="1.35" fill="#111"/>
</g></g>
<rect x="193.00" y="339.60" width="30.50" height="17.80" fill="none" stroke="#5a5a5a" stroke-width="0.7"/>
<clipPath id="c1930_3610"><rect x="193.00" y="361.00" width="30.50" height="17.80"/></clipPath>
<rect x="193.00" y="361.00" width="30.50" height="17.80" fill="#aaaaaa"/>
<g clip-path="url(#c1930_3610)"><g filter="url(#b1)">
<rect x="194.01" y="368.80" width="12.00" height="3.96" rx="3.60" ry="1.98" fill="#000"/>
<rect x="208.08" y="368.51" width="12.92" height="3.60" rx="3.88" ry="1.80" fill="#000"/>
</g></g>
<rect x="193.00" y="361.00" width="30.50" height="17.80" fill="none" stroke="#5a5a5a" stroke-width="0.7"/>
<rect x="297.30" y="325.40" width="218.40" height="5.80" fill="#cdcdcd"/>
<rect x="297.30" y="325.40" width="105.92" height="5.80" fill="#000"/>
<line x1="294.30" y1="328.50" x2="297.30" y2="328.50" stroke="#111" stroke-width="0.9"/>
<line x1="403.22" y1="328.30" x2="404.97" y2="328.30" stroke="#333" stroke-width="0.6"/>
<line x1="404.97" y1="327.00" x2="404.97" y2="329.60" stroke="#333" stroke-width="0.6"/>
<rect x="297.30" y="334.10" width="218.40" height="5.80" fill="#cdcdcd"/>
<rect x="297.30" y="334.10" width="170.79" height="5.80" fill="#000"/>
<line x1="294.30" y1="337.50" x2="297.30" y2="337.50" stroke="#111" stroke-width="0.9"/>
<line x1="468.09" y1="337.00" x2="475.95" y2="337.00" stroke="#333" stroke-width="0.6"/>
<line x1="475.95" y1="335.70" x2="475.95" y2="338.30" stroke="#333" stroke-width="0.6"/>
<rect x="297.30" y="342.70" width="218.40" height="5.80" fill="#cdcdcd"/>
<rect x="297.30" y="342.70" width="82.77" height="5.80" fill="#000"/>
<line x1="294.30" y1="345.50" x2="297.30" y2="345.50" stroke="#111" stroke-width="0.9"/>
<line x1="380.07" y1="345.60" x2="383.13" y2="345.60" stroke="#333" stroke-width="0.6"/>
<line x1="383.13" y1="344.30" x2="383.13" y2="346.90" stroke="#333" stroke-width="0.6"/>
<rect x="297.30" y="351.30" width="218.40" height="5.80" fill="#cdcdcd"/>
<rect x="297.30" y="351.30" width="62.03" height="5.80" fill="#000"/>
<line x1="294.30" y1="354.50" x2="297.30" y2="354.50" stroke="#111" stroke-width="0.9"/>
<rect x="297.30" y="365.70" width="218.40" height="5.80" fill="#cdcdcd"/>
<rect x="297.30" y="365.70" width="105.92" height="5.80" fill="#000"/>
<line x1="294.30" y1="368.50" x2="297.30" y2="368.50" stroke="#111" stroke-width="0.9"/>
<line x1="403.22" y1="368.60" x2="404.97" y2="368.60" stroke="#333" stroke-width="0.6"/>
<line x1="404.97" y1="367.30" x2="404.97" y2="369.90" stroke="#333" stroke-width="0.6"/>
<rect x="297.30" y="374.10" width="218.40" height="5.80" fill="#cdcdcd"/>
<rect x="297.30" y="374.10" width="134.75" height="5.80" fill="#000"/>
<line x1="294.30" y1="377.50" x2="297.30" y2="377.50" stroke="#111" stroke-width="0.9"/>
<line x1="432.05" y1="377.00" x2="436.86" y2="377.00" stroke="#333" stroke-width="0.6"/>
<line x1="436.86" y1="375.70" x2="436.86" y2="378.30" stroke="#333" stroke-width="0.6"/>
<rect x="297.30" y="382.80" width="218.40" height="5.80" fill="#cdcdcd"/>
<rect x="297.30" y="382.80" width="64.86" height="5.80" fill="#000"/>
<line x1="294.30" y1="385.50" x2="297.30" y2="385.50" stroke="#111" stroke-width="0.9"/>
<line x1="362.16" y1="385.70" x2="363.91" y2="385.70" stroke="#333" stroke-width="0.6"/>
<line x1="363.91" y1="384.40" x2="363.91" y2="387.00" stroke="#333" stroke-width="0.6"/>
<rect x="297.30" y="391.10" width="218.40" height="5.80" fill="#cdcdcd"/>
<rect x="297.30" y="391.10" width="43.68" height="5.80" fill="#000"/>
<line x1="294.30" y1="394.50" x2="297.30" y2="394.50" stroke="#111" stroke-width="0.9"/>
<line x1="360.53" y1="354.20" x2="380.07" y2="354.20" stroke="#111" stroke-width="0.9"/>
<line x1="380.07" y1="351.70" x2="380.07" y2="356.70" stroke="#111" stroke-width="0.9"/>
<line x1="360.53" y1="352.70" x2="360.53" y2="355.70" stroke="#111" stroke-width="0.9"/>
<line x1="342.18" y1="394.00" x2="362.16" y2="394.00" stroke="#111" stroke-width="0.9"/>
<line x1="362.16" y1="391.50" x2="362.16" y2="396.50" stroke="#111" stroke-width="0.9"/>
<line x1="342.18" y1="392.50" x2="342.18" y2="395.50" stroke="#111" stroke-width="0.9"/>
<line x1="297.50" y1="323.00" x2="297.50" y2="400.00" stroke="#111" stroke-width="0.9"/>
<line x1="296.90" y1="399.50" x2="516.10" y2="399.50" stroke="#111" stroke-width="0.9"/>
<line x1="297.50" y1="399.60" x2="297.50" y2="402.20" stroke="#111" stroke-width="0.8"/>
<line x1="306.04" y1="399.60" x2="306.04" y2="401.20" stroke="#111" stroke-width="0.6"/>
<line x1="314.77" y1="399.60" x2="314.77" y2="401.20" stroke="#111" stroke-width="0.6"/>
<line x1="323.51" y1="399.60" x2="323.51" y2="401.20" stroke="#111" stroke-width="0.6"/>
<line x1="332.24" y1="399.60" x2="332.24" y2="401.20" stroke="#111" stroke-width="0.6"/>
<line x1="340.50" y1="399.60" x2="340.50" y2="402.20" stroke="#111" stroke-width="0.8"/>
<line x1="349.72" y1="399.60" x2="349.72" y2="401.20" stroke="#111" stroke-width="0.6"/>
<line x1="358.45" y1="399.60" x2="358.45" y2="401.20" stroke="#111" stroke-width="0.6"/>
<line x1="367.19" y1="399.60" x2="367.19" y2="401.20" stroke="#111" stroke-width="0.6"/>
<line x1="375.92" y1="399.60" x2="375.92" y2="401.20" stroke="#111" stroke-width="0.6"/>
<line x1="384.50" y1="399.60" x2="384.50" y2="402.20" stroke="#111" stroke-width="0.8"/>
<line x1="393.40" y1="399.60" x2="393.40" y2="401.20" stroke="#111" stroke-width="0.6"/>
<line x1="402.13" y1="399.60" x2="402.13" y2="401.20" stroke="#111" stroke-width="0.6"/>
<line x1="410.87" y1="399.60" x2="410.87" y2="401.20" stroke="#111" stroke-width="0.6"/>
<line x1="419.60" y1="399.60" x2="419.60" y2="401.20" stroke="#111" stroke-width="0.6"/>
<line x1="428.50" y1="399.60" x2="428.50" y2="402.20" stroke="#111" stroke-width="0.8"/>
<line x1="437.08" y1="399.60" x2="437.08" y2="401.20" stroke="#111" stroke-width="0.6"/>
<line x1="445.81" y1="399.60" x2="445.81" y2="401.20" stroke="#111" stroke-width="0.6"/>
<line x1="454.55" y1="399.60" x2="454.55" y2="401.20" stroke="#111" stroke-width="0.6"/>
<line x1="463.28" y1="399.60" x2="463.28" y2="401.20" stroke="#111" stroke-width="0.6"/>
<line x1="472.50" y1="399.60" x2="472.50" y2="402.20" stroke="#111" stroke-width="0.8"/>
<line x1="480.76" y1="399.60" x2="480.76" y2="401.20" stroke="#111" stroke-width="0.6"/>
<line x1="489.49" y1="399.60" x2="489.49" y2="401.20" stroke="#111" stroke-width="0.6"/>
<line x1="498.23" y1="399.60" x2="498.23" y2="401.20" stroke="#111" stroke-width="0.6"/>
<line x1="506.96" y1="399.60" x2="506.96" y2="401.20" stroke="#111" stroke-width="0.6"/>
<line x1="515.50" y1="399.60" x2="515.50" y2="402.20" stroke="#111" stroke-width="0.8"/>
<line x1="46.50" y1="454.40" x2="46.50" y2="534.90" stroke="#111" stroke-width="0.9"/>
<line x1="42.65" y1="534.50" x2="46.05" y2="534.50" stroke="#111" stroke-width="0.9"/>
<line x1="42.65" y1="507.50" x2="46.05" y2="507.50" stroke="#111" stroke-width="0.9"/>
<line x1="42.65" y1="481.50" x2="46.05" y2="481.50" stroke="#111" stroke-width="0.9"/>
<line x1="42.65" y1="454.50" x2="46.05" y2="454.50" stroke="#111" stroke-width="0.9"/>
<line x1="45.65" y1="534.50" x2="165.55" y2="534.50" stroke="#111" stroke-width="1.0"/>
<line x1="46.05" y1="534.50" x2="46.05" y2="536.60" stroke="#111" stroke-width="0.8"/>
<line x1="48.48" y1="534.50" x2="48.48" y2="536.60" stroke="#111" stroke-width="0.8"/>
<line x1="50.91" y1="534.50" x2="50.91" y2="536.60" stroke="#111" stroke-width="0.8"/>
<line x1="53.34" y1="534.50" x2="53.34" y2="536.60" stroke="#111" stroke-width="0.8"/>
<line x1="55.77" y1="534.50" x2="55.77" y2="536.60" stroke="#111" stroke-width="0.8"/>
<line x1="58.20" y1="534.50" x2="58.20" y2="536.60" stroke="#111" stroke-width="0.8"/>
<line x1="60.63" y1="534.50" x2="60.63" y2="536.60" stroke="#111" stroke-width="0.8"/>
<line x1="63.06" y1="534.50" x2="63.06" y2="536.60" stroke="#111" stroke-width="0.8"/>
<line x1="65.49" y1="534.50" x2="65.49" y2="536.60" stroke="#111" stroke-width="0.8"/>
<line x1="67.93" y1="534.50" x2="67.93" y2="536.60" stroke="#111" stroke-width="0.8"/>
<line x1="70.36" y1="534.50" x2="70.36" y2="536.60" stroke="#111" stroke-width="0.8"/>
<line x1="72.79" y1="534.50" x2="72.79" y2="536.60" stroke="#111" stroke-width="0.8"/>
<line x1="75.22" y1="534.50" x2="75.22" y2="536.60" stroke="#111" stroke-width="0.8"/>
<line x1="77.65" y1="534.50" x2="77.65" y2="536.60" stroke="#111" stroke-width="0.8"/>
<line x1="80.08" y1="534.50" x2="80.08" y2="536.60" stroke="#111" stroke-width="0.8"/>
<line x1="82.51" y1="534.50" x2="82.51" y2="536.60" stroke="#111" stroke-width="0.8"/>
<line x1="84.94" y1="534.50" x2="84.94" y2="536.60" stroke="#111" stroke-width="0.8"/>
<line x1="87.37" y1="534.50" x2="87.37" y2="536.60" stroke="#111" stroke-width="0.8"/>
<line x1="89.80" y1="534.50" x2="89.80" y2="536.60" stroke="#111" stroke-width="0.8"/>
<line x1="92.23" y1="534.50" x2="92.23" y2="536.60" stroke="#111" stroke-width="0.8"/>
<line x1="94.66" y1="534.50" x2="94.66" y2="536.60" stroke="#111" stroke-width="0.8"/>
<line x1="97.09" y1="534.50" x2="97.09" y2="536.60" stroke="#111" stroke-width="0.8"/>
<line x1="99.52" y1="534.50" x2="99.52" y2="536.60" stroke="#111" stroke-width="0.8"/>
<line x1="101.95" y1="534.50" x2="101.95" y2="536.60" stroke="#111" stroke-width="0.8"/>
<line x1="104.38" y1="534.50" x2="104.38" y2="536.60" stroke="#111" stroke-width="0.8"/>
<line x1="106.82" y1="534.50" x2="106.82" y2="536.60" stroke="#111" stroke-width="0.8"/>
<line x1="109.25" y1="534.50" x2="109.25" y2="536.60" stroke="#111" stroke-width="0.8"/>
<line x1="111.68" y1="534.50" x2="111.68" y2="536.60" stroke="#111" stroke-width="0.8"/>
<line x1="114.11" y1="534.50" x2="114.11" y2="536.60" stroke="#111" stroke-width="0.8"/>
<line x1="116.54" y1="534.50" x2="116.54" y2="536.60" stroke="#111" stroke-width="0.8"/>
<line x1="118.97" y1="534.50" x2="118.97" y2="536.60" stroke="#111" stroke-width="0.8"/>
<line x1="121.40" y1="534.50" x2="121.40" y2="536.60" stroke="#111" stroke-width="0.8"/>
<line x1="123.83" y1="534.50" x2="123.83" y2="536.60" stroke="#111" stroke-width="0.8"/>
<line x1="126.26" y1="534.50" x2="126.26" y2="536.60" stroke="#111" stroke-width="0.8"/>
<line x1="128.69" y1="534.50" x2="128.69" y2="536.60" stroke="#111" stroke-width="0.8"/>
<line x1="131.12" y1="534.50" x2="131.12" y2="536.60" stroke="#111" stroke-width="0.8"/>
<line x1="133.55" y1="534.50" x2="133.55" y2="536.60" stroke="#111" stroke-width="0.8"/>
<line x1="135.98" y1="534.50" x2="135.98" y2="536.60" stroke="#111" stroke-width="0.8"/>
<line x1="138.41" y1="534.50" x2="138.41" y2="536.60" stroke="#111" stroke-width="0.8"/>
<line x1="140.84" y1="534.50" x2="140.84" y2="536.60" stroke="#111" stroke-width="0.8"/>
<line x1="143.27" y1="534.50" x2="143.27" y2="536.60" stroke="#111" stroke-width="0.8"/>
<line x1="145.71" y1="534.50" x2="145.71" y2="536.60" stroke="#111" stroke-width="0.8"/>
<line x1="148.14" y1="534.50" x2="148.14" y2="536.60" stroke="#111" stroke-width="0.8"/>
<line x1="150.57" y1="534.50" x2="150.57" y2="536.60" stroke="#111" stroke-width="0.8"/>
<line x1="153.00" y1="534.50" x2="153.00" y2="536.60" stroke="#111" stroke-width="0.8"/>
<line x1="155.43" y1="534.50" x2="155.43" y2="536.60" stroke="#111" stroke-width="0.8"/>
<line x1="157.86" y1="534.50" x2="157.86" y2="536.60" stroke="#111" stroke-width="0.8"/>
<line x1="160.29" y1="534.50" x2="160.29" y2="536.60" stroke="#111" stroke-width="0.8"/>
<line x1="162.72" y1="534.50" x2="162.72" y2="536.60" stroke="#111" stroke-width="0.8"/>
<line x1="165.15" y1="534.50" x2="165.15" y2="536.60" stroke="#111" stroke-width="0.8"/>
<line x1="46.50" y1="534.50" x2="46.50" y2="537.50" stroke="#111" stroke-width="0.9"/>
<line x1="85.50" y1="534.50" x2="85.50" y2="537.50" stroke="#111" stroke-width="0.9"/>
<line x1="125.50" y1="534.50" x2="125.50" y2="537.50" stroke="#111" stroke-width="0.9"/>
<line x1="165.50" y1="534.50" x2="165.50" y2="537.50" stroke="#111" stroke-width="0.9"/>
<polyline points="46.05,521.20 61.93,522.53 77.81,524.52 93.69,526.52 109.57,527.85 125.45,528.51 141.33,529.18 157.21,530.51" fill="none" stroke="#111" stroke-width="1.0"/>
<rect x="44.79" y="519.94" width="2.52" height="2.52" fill="#111"/>
<line x1="61.93" y1="521.03" x2="61.93" y2="524.03" stroke="#111" stroke-width="0.85"/>
<line x1="60.63" y1="521.03" x2="63.23" y2="521.03" stroke="#111" stroke-width="0.8"/>
<line x1="60.63" y1="524.03" x2="63.23" y2="524.03" stroke="#111" stroke-width="0.8"/>
<rect x="60.67" y="521.27" width="2.52" height="2.52" fill="#111"/>
<line x1="77.81" y1="523.02" x2="77.81" y2="526.02" stroke="#111" stroke-width="0.85"/>
<line x1="76.51" y1="523.02" x2="79.11" y2="523.02" stroke="#111" stroke-width="0.8"/>
<line x1="76.51" y1="526.02" x2="79.11" y2="526.02" stroke="#111" stroke-width="0.8"/>
<rect x="76.55" y="523.26" width="2.52" height="2.52" fill="#111"/>
<line x1="93.69" y1="523.52" x2="93.69" y2="529.52" stroke="#111" stroke-width="0.85"/>
<line x1="92.39" y1="523.52" x2="94.99" y2="523.52" stroke="#111" stroke-width="0.8"/>
<line x1="92.39" y1="529.52" x2="94.99" y2="529.52" stroke="#111" stroke-width="0.8"/>
<rect x="92.43" y="525.26" width="2.52" height="2.52" fill="#111"/>
<line x1="109.57" y1="524.35" x2="109.57" y2="531.35" stroke="#111" stroke-width="0.85"/>
<line x1="108.27" y1="524.35" x2="110.87" y2="524.35" stroke="#111" stroke-width="0.8"/>
<line x1="108.27" y1="531.35" x2="110.87" y2="531.35" stroke="#111" stroke-width="0.8"/>
<rect x="108.31" y="526.59" width="2.52" height="2.52" fill="#111"/>
<line x1="125.45" y1="525.51" x2="125.45" y2="531.51" stroke="#111" stroke-width="0.85"/>
<line x1="124.15" y1="525.51" x2="126.75" y2="525.51" stroke="#111" stroke-width="0.8"/>
<line x1="124.15" y1="531.51" x2="126.75" y2="531.51" stroke="#111" stroke-width="0.8"/>
<rect x="124.19" y="527.25" width="2.52" height="2.52" fill="#111"/>
<line x1="141.33" y1="524.68" x2="141.33" y2="533.68" stroke="#111" stroke-width="0.85"/>
<line x1="140.03" y1="524.68" x2="142.63" y2="524.68" stroke="#111" stroke-width="0.8"/>
<line x1="140.03" y1="533.68" x2="142.63" y2="533.68" stroke="#111" stroke-width="0.8"/>
<rect x="140.07" y="527.92" width="2.52" height="2.52" fill="#111"/>
<line x1="157.21" y1="526.51" x2="157.21" y2="534.51" stroke="#111" stroke-width="0.85"/>
<line x1="155.91" y1="526.51" x2="158.51" y2="526.51" stroke="#111" stroke-width="0.8"/>
<line x1="155.91" y1="534.51" x2="158.51" y2="534.51" stroke="#111" stroke-width="0.8"/>
<rect x="155.95" y="529.25" width="2.52" height="2.52" fill="#111"/>
<polyline points="46.05,521.20 61.93,519.87 77.81,514.55 93.69,506.57 109.57,505.24 125.45,497.26 141.33,494.60 157.21,493.27" fill="none" stroke="#111" stroke-width="1.0"/>
<path d="M46.05 519.66 L47.59 522.46 L44.51 522.46 Z" fill="#111"/>
<line x1="61.93" y1="518.37" x2="61.93" y2="521.37" stroke="#111" stroke-width="0.85"/>
<line x1="60.63" y1="518.37" x2="63.23" y2="518.37" stroke="#111" stroke-width="0.8"/>
<line x1="60.63" y1="521.37" x2="63.23" y2="521.37" stroke="#111" stroke-width="0.8"/>
<path d="M61.93 518.33 L63.47 521.13 L60.39 521.13 Z" fill="#111"/>
<line x1="77.81" y1="512.55" x2="77.81" y2="516.55" stroke="#111" stroke-width="0.85"/>
<line x1="76.51" y1="512.55" x2="79.11" y2="512.55" stroke="#111" stroke-width="0.8"/>
<line x1="76.51" y1="516.55" x2="79.11" y2="516.55" stroke="#111" stroke-width="0.8"/>
<path d="M77.81 513.01 L79.35 515.81 L76.27 515.81 Z" fill="#111"/>
<line x1="93.69" y1="505.07" x2="93.69" y2="508.07" stroke="#111" stroke-width="0.85"/>
<line x1="92.39" y1="505.07" x2="94.99" y2="505.07" stroke="#111" stroke-width="0.8"/>
<line x1="92.39" y1="508.07" x2="94.99" y2="508.07" stroke="#111" stroke-width="0.8"/>
<path d="M93.69 505.03 L95.23 507.83 L92.15 507.83 Z" fill="#111"/>
<line x1="109.57" y1="503.24" x2="109.57" y2="507.24" stroke="#111" stroke-width="0.85"/>
<line x1="108.27" y1="503.24" x2="110.87" y2="503.24" stroke="#111" stroke-width="0.8"/>
<line x1="108.27" y1="507.24" x2="110.87" y2="507.24" stroke="#111" stroke-width="0.8"/>
<path d="M109.57 503.70 L111.11 506.50 L108.03 506.50 Z" fill="#111"/>
<line x1="125.45" y1="495.76" x2="125.45" y2="498.76" stroke="#111" stroke-width="0.85"/>
<line x1="124.15" y1="495.76" x2="126.75" y2="495.76" stroke="#111" stroke-width="0.8"/>
<line x1="124.15" y1="498.76" x2="126.75" y2="498.76" stroke="#111" stroke-width="0.8"/>
<path d="M125.45 495.72 L126.99 498.52 L123.91 498.52 Z" fill="#111"/>
<line x1="141.33" y1="492.60" x2="141.33" y2="496.60" stroke="#111" stroke-width="0.85"/>
<line x1="140.03" y1="492.60" x2="142.63" y2="492.60" stroke="#111" stroke-width="0.8"/>
<line x1="140.03" y1="496.60" x2="142.63" y2="496.60" stroke="#111" stroke-width="0.8"/>
<path d="M141.33 493.06 L142.87 495.86 L139.79 495.86 Z" fill="#111"/>
<line x1="157.21" y1="492.47" x2="157.21" y2="494.07" stroke="#111" stroke-width="0.85"/>
<line x1="155.91" y1="492.47" x2="158.51" y2="492.47" stroke="#111" stroke-width="0.8"/>
<line x1="155.91" y1="494.07" x2="158.51" y2="494.07" stroke="#111" stroke-width="0.8"/>
<path d="M157.21 491.73 L158.75 494.53 L155.67 494.53 Z" fill="#111"/>
<polyline points="46.05,521.20 61.93,518.54 77.81,510.56 93.69,503.25 109.57,498.59 125.45,494.60 141.33,488.62 157.21,481.30" fill="none" stroke="#111" stroke-width="1.0"/>
<circle cx="46.05" cy="521.20" r="1.40" fill="#111"/>
<line x1="61.93" y1="516.54" x2="61.93" y2="520.54" stroke="#111" stroke-width="0.85"/>
<line x1="60.63" y1="516.54" x2="63.23" y2="516.54" stroke="#111" stroke-width="0.8"/>
<line x1="60.63" y1="520.54" x2="63.23" y2="520.54" stroke="#111" stroke-width="0.8"/>
<circle cx="61.93" cy="518.54" r="1.40" fill="#111"/>
<line x1="77.81" y1="509.06" x2="77.81" y2="512.06" stroke="#111" stroke-width="0.85"/>
<line x1="76.51" y1="509.06" x2="79.11" y2="509.06" stroke="#111" stroke-width="0.8"/>
<line x1="76.51" y1="512.06" x2="79.11" y2="512.06" stroke="#111" stroke-width="0.8"/>
<circle cx="77.81" cy="510.56" r="1.40" fill="#111"/>
<line x1="93.69" y1="500.25" x2="93.69" y2="506.25" stroke="#111" stroke-width="0.85"/>
<line x1="92.39" y1="500.25" x2="94.99" y2="500.25" stroke="#111" stroke-width="0.8"/>
<line x1="92.39" y1="506.25" x2="94.99" y2="506.25" stroke="#111" stroke-width="0.8"/>
<circle cx="93.69" cy="503.25" r="1.40" fill="#111"/>
<line x1="109.57" y1="497.09" x2="109.57" y2="500.09" stroke="#111" stroke-width="0.85"/>
<line x1="108.27" y1="497.09" x2="110.87" y2="497.09" stroke="#111" stroke-width="0.8"/>
<line x1="108.27" y1="500.09" x2="110.87" y2="500.09" stroke="#111" stroke-width="0.8"/>
<circle cx="109.57" cy="498.59" r="1.40" fill="#111"/>
<line x1="125.45" y1="491.10" x2="125.45" y2="498.10" stroke="#111" stroke-width="0.85"/>
<line x1="124.15" y1="491.10" x2="126.75" y2="491.10" stroke="#111" stroke-width="0.8"/>
<line x1="124.15" y1="498.10" x2="126.75" y2="498.10" stroke="#111" stroke-width="0.8"/>
<circle cx="125.45" cy="494.60" r="1.40" fill="#111"/>
<line x1="141.33" y1="485.12" x2="141.33" y2="492.12" stroke="#111" stroke-width="0.85"/>
<line x1="140.03" y1="485.12" x2="142.63" y2="485.12" stroke="#111" stroke-width="0.8"/>
<line x1="140.03" y1="492.12" x2="142.63" y2="492.12" stroke="#111" stroke-width="0.8"/>
<circle cx="141.33" cy="488.62" r="1.40" fill="#111"/>
<line x1="157.21" y1="479.30" x2="157.21" y2="483.30" stroke="#111" stroke-width="0.85"/>
<line x1="155.91" y1="479.30" x2="158.51" y2="479.30" stroke="#111" stroke-width="0.8"/>
<line x1="155.91" y1="483.30" x2="158.51" y2="483.30" stroke="#111" stroke-width="0.8"/>
<circle cx="157.21" cy="481.30" r="1.40" fill="#111"/>
<line x1="53.80" y1="465.50" x2="62.00" y2="465.50" stroke="#111" stroke-width="0.9"/>
<circle cx="57.90" cy="465.80" r="1.30" fill="#111"/>
<line x1="53.80" y1="471.50" x2="62.00" y2="471.50" stroke="#111" stroke-width="0.9"/>
<path d="M57.90 470.07 L59.33 472.67 L56.47 472.67 Z" fill="#111"/>
<line x1="53.80" y1="477.50" x2="62.00" y2="477.50" stroke="#111" stroke-width="0.9"/>
<rect x="56.73" y="476.13" width="2.34" height="2.34" fill="#111"/>
<line x1="162.50" y1="480.40" x2="162.50" y2="531.30" stroke="#111" stroke-width="0.9"/>
<line x1="161.00" y1="480.50" x2="163.00" y2="480.50" stroke="#111" stroke-width="0.8"/>
<line x1="161.00" y1="531.50" x2="163.00" y2="531.50" stroke="#111" stroke-width="0.8"/>
<line x1="373.50" y1="456.60" x2="373.50" y2="532.20" stroke="#111" stroke-width="0.9"/>
<line x1="370.30" y1="531.50" x2="373.70" y2="531.50" stroke="#111" stroke-width="0.9"/>
<line x1="370.30" y1="506.50" x2="373.70" y2="506.50" stroke="#111" stroke-width="0.9"/>
<line x1="370.30" y1="481.50" x2="373.70" y2="481.50" stroke="#111" stroke-width="0.9"/>
<line x1="370.30" y1="457.50" x2="373.70" y2="457.50" stroke="#111" stroke-width="0.9"/>
<line x1="373.30" y1="531.50" x2="509.40" y2="531.50" stroke="#111" stroke-width="1.0"/>
<line x1="373.70" y1="531.80" x2="373.70" y2="533.90" stroke="#111" stroke-width="0.8"/>
<line x1="377.26" y1="531.80" x2="377.26" y2="533.90" stroke="#111" stroke-width="0.8"/>
<line x1="380.82" y1="531.80" x2="380.82" y2="533.90" stroke="#111" stroke-width="0.8"/>
<line x1="384.38" y1="531.80" x2="384.38" y2="533.90" stroke="#111" stroke-width="0.8"/>
<line x1="387.94" y1="531.80" x2="387.94" y2="533.90" stroke="#111" stroke-width="0.8"/>
<line x1="391.50" y1="531.80" x2="391.50" y2="533.90" stroke="#111" stroke-width="0.8"/>
<line x1="395.06" y1="531.80" x2="395.06" y2="533.90" stroke="#111" stroke-width="0.8"/>
<line x1="398.62" y1="531.80" x2="398.62" y2="533.90" stroke="#111" stroke-width="0.8"/>
<line x1="402.18" y1="531.80" x2="402.18" y2="533.90" stroke="#111" stroke-width="0.8"/>
<line x1="405.74" y1="531.80" x2="405.74" y2="533.90" stroke="#111" stroke-width="0.8"/>
<line x1="409.31" y1="531.80" x2="409.31" y2="533.90" stroke="#111" stroke-width="0.8"/>
<line x1="412.87" y1="531.80" x2="412.87" y2="533.90" stroke="#111" stroke-width="0.8"/>
<line x1="416.43" y1="531.80" x2="416.43" y2="533.90" stroke="#111" stroke-width="0.8"/>
<line x1="419.99" y1="531.80" x2="419.99" y2="533.90" stroke="#111" stroke-width="0.8"/>
<line x1="423.55" y1="531.80" x2="423.55" y2="533.90" stroke="#111" stroke-width="0.8"/>
<line x1="427.11" y1="531.80" x2="427.11" y2="533.90" stroke="#111" stroke-width="0.8"/>
<line x1="430.67" y1="531.80" x2="430.67" y2="533.90" stroke="#111" stroke-width="0.8"/>
<line x1="434.23" y1="531.80" x2="434.23" y2="533.90" stroke="#111" stroke-width="0.8"/>
<line x1="437.79" y1="531.80" x2="437.79" y2="533.90" stroke="#111" stroke-width="0.8"/>
<line x1="441.35" y1="531.80" x2="441.35" y2="533.90" stroke="#111" stroke-width="0.8"/>
<line x1="444.91" y1="531.80" x2="444.91" y2="533.90" stroke="#111" stroke-width="0.8"/>
<line x1="448.47" y1="531.80" x2="448.47" y2="533.90" stroke="#111" stroke-width="0.8"/>
<line x1="452.03" y1="531.80" x2="452.03" y2="533.90" stroke="#111" stroke-width="0.8"/>
<line x1="455.59" y1="531.80" x2="455.59" y2="533.90" stroke="#111" stroke-width="0.8"/>
<line x1="459.15" y1="531.80" x2="459.15" y2="533.90" stroke="#111" stroke-width="0.8"/>
<line x1="462.71" y1="531.80" x2="462.71" y2="533.90" stroke="#111" stroke-width="0.8"/>
<line x1="466.27" y1="531.80" x2="466.27" y2="533.90" stroke="#111" stroke-width="0.8"/>
<line x1="469.83" y1="531.80" x2="469.83" y2="533.90" stroke="#111" stroke-width="0.8"/>
<line x1="473.39" y1="531.80" x2="473.39" y2="533.90" stroke="#111" stroke-width="0.8"/>
<line x1="476.96" y1="531.80" x2="476.96" y2="533.90" stroke="#111" stroke-width="0.8"/>
<line x1="480.52" y1="531.80" x2="480.52" y2="533.90" stroke="#111" stroke-width="0.8"/>
<line x1="484.08" y1="531.80" x2="484.08" y2="533.90" stroke="#111" stroke-width="0.8"/>
<line x1="487.64" y1="531.80" x2="487.64" y2="533.90" stroke="#111" stroke-width="0.8"/>
<line x1="491.20" y1="531.80" x2="491.20" y2="533.90" stroke="#111" stroke-width="0.8"/>
<line x1="494.76" y1="531.80" x2="494.76" y2="533.90" stroke="#111" stroke-width="0.8"/>
<line x1="498.32" y1="531.80" x2="498.32" y2="533.90" stroke="#111" stroke-width="0.8"/>
<line x1="501.88" y1="531.80" x2="501.88" y2="533.90" stroke="#111" stroke-width="0.8"/>
<line x1="505.44" y1="531.80" x2="505.44" y2="533.90" stroke="#111" stroke-width="0.8"/>
<line x1="509.00" y1="531.80" x2="509.00" y2="533.90" stroke="#111" stroke-width="0.8"/>
<line x1="373.50" y1="531.80" x2="373.50" y2="534.80" stroke="#111" stroke-width="0.9"/>
<line x1="418.50" y1="531.80" x2="418.50" y2="534.80" stroke="#111" stroke-width="0.9"/>
<line x1="463.50" y1="531.80" x2="463.50" y2="534.80" stroke="#111" stroke-width="0.9"/>
<line x1="509.50" y1="531.80" x2="509.50" y2="534.80" stroke="#111" stroke-width="0.9"/>
<polyline points="373.70,483.69 391.74,482.69 409.78,480.19 427.82,478.70 445.86,476.95 463.90,481.94 481.94,479.45 499.98,475.71" fill="none" stroke="#111" stroke-width="1.0"/>
<line x1="373.70" y1="479.95" x2="373.70" y2="487.42" stroke="#111" stroke-width="0.85"/>
<line x1="372.40" y1="479.95" x2="375.00" y2="479.95" stroke="#111" stroke-width="0.8"/>
<line x1="372.40" y1="487.42" x2="375.00" y2="487.42" stroke="#111" stroke-width="0.8"/>
<rect x="372.44" y="482.43" width="2.52" height="2.52" fill="#111"/>
<line x1="391.74" y1="478.95" x2="391.74" y2="486.43" stroke="#111" stroke-width="0.85"/>
<line x1="390.44" y1="478.95" x2="393.04" y2="478.95" stroke="#111" stroke-width="0.8"/>
<line x1="390.44" y1="486.43" x2="393.04" y2="486.43" stroke="#111" stroke-width="0.8"/>
<rect x="390.48" y="481.43" width="2.52" height="2.52" fill="#111"/>
<line x1="409.78" y1="476.46" x2="409.78" y2="483.93" stroke="#111" stroke-width="0.85"/>
<line x1="408.48" y1="476.46" x2="411.08" y2="476.46" stroke="#111" stroke-width="0.8"/>
<line x1="408.48" y1="483.93" x2="411.08" y2="483.93" stroke="#111" stroke-width="0.8"/>
<rect x="408.52" y="478.93" width="2.52" height="2.52" fill="#111"/>
<line x1="427.82" y1="474.96" x2="427.82" y2="482.44" stroke="#111" stroke-width="0.85"/>
<line x1="426.52" y1="474.96" x2="429.12" y2="474.96" stroke="#111" stroke-width="0.8"/>
<line x1="426.52" y1="482.44" x2="429.12" y2="482.44" stroke="#111" stroke-width="0.8"/>
<rect x="426.56" y="477.44" width="2.52" height="2.52" fill="#111"/>
<line x1="445.86" y1="473.21" x2="445.86" y2="480.69" stroke="#111" stroke-width="0.85"/>
<line x1="444.56" y1="473.21" x2="447.16" y2="473.21" stroke="#111" stroke-width="0.8"/>
<line x1="444.56" y1="480.69" x2="447.16" y2="480.69" stroke="#111" stroke-width="0.8"/>
<rect x="444.60" y="475.69" width="2.52" height="2.52" fill="#111"/>
<line x1="463.90" y1="478.20" x2="463.90" y2="485.68" stroke="#111" stroke-width="0.85"/>
<line x1="462.60" y1="478.20" x2="465.20" y2="478.20" stroke="#111" stroke-width="0.8"/>
<line x1="462.60" y1="485.68" x2="465.20" y2="485.68" stroke="#111" stroke-width="0.8"/>
<rect x="462.64" y="480.68" width="2.52" height="2.52" fill="#111"/>
<line x1="481.94" y1="475.71" x2="481.94" y2="483.19" stroke="#111" stroke-width="0.85"/>
<line x1="480.64" y1="475.71" x2="483.24" y2="475.71" stroke="#111" stroke-width="0.8"/>
<line x1="480.64" y1="483.19" x2="483.24" y2="483.19" stroke="#111" stroke-width="0.8"/>
<rect x="480.68" y="478.19" width="2.52" height="2.52" fill="#111"/>
<line x1="499.98" y1="471.97" x2="499.98" y2="479.45" stroke="#111" stroke-width="0.85"/>
<line x1="498.68" y1="471.97" x2="501.28" y2="471.97" stroke="#111" stroke-width="0.8"/>
<line x1="498.68" y1="479.45" x2="501.28" y2="479.45" stroke="#111" stroke-width="0.8"/>
<rect x="498.72" y="474.45" width="2.52" height="2.52" fill="#111"/>
<polyline points="373.70,481.94 391.74,480.69 409.78,478.70 427.82,477.45 445.86,478.95 463.90,476.95 481.94,479.45 499.98,478.70" fill="none" stroke="#111" stroke-width="1.0"/>
<line x1="373.70" y1="478.20" x2="373.70" y2="485.68" stroke="#111" stroke-width="0.85"/>
<line x1="372.40" y1="478.20" x2="375.00" y2="478.20" stroke="#111" stroke-width="0.8"/>
<line x1="372.40" y1="485.68" x2="375.00" y2="485.68" stroke="#111" stroke-width="0.8"/>
<path d="M373.70 480.40 L375.24 483.20 L372.16 483.20 Z" fill="#111"/>
<line x1="391.74" y1="476.95" x2="391.74" y2="484.43" stroke="#111" stroke-width="0.85"/>
<line x1="390.44" y1="476.95" x2="393.04" y2="476.95" stroke="#111" stroke-width="0.8"/>
<line x1="390.44" y1="484.43" x2="393.04" y2="484.43" stroke="#111" stroke-width="0.8"/>
<path d="M391.74 479.15 L393.28 481.95 L390.20 481.95 Z" fill="#111"/>
<line x1="409.78" y1="474.96" x2="409.78" y2="482.44" stroke="#111" stroke-width="0.85"/>
<line x1="408.48" y1="474.96" x2="411.08" y2="474.96" stroke="#111" stroke-width="0.8"/>
<line x1="408.48" y1="482.44" x2="411.08" y2="482.44" stroke="#111" stroke-width="0.8"/>
<path d="M409.78 477.16 L411.32 479.96 L408.24 479.96 Z" fill="#111"/>
<line x1="427.82" y1="473.71" x2="427.82" y2="481.19" stroke="#111" stroke-width="0.85"/>
<line x1="426.52" y1="473.71" x2="429.12" y2="473.71" stroke="#111" stroke-width="0.8"/>
<line x1="426.52" y1="481.19" x2="429.12" y2="481.19" stroke="#111" stroke-width="0.8"/>
<path d="M427.82 475.91 L429.36 478.71 L426.28 478.71 Z" fill="#111"/>
<line x1="445.86" y1="475.21" x2="445.86" y2="482.69" stroke="#111" stroke-width="0.85"/>
<line x1="444.56" y1="475.21" x2="447.16" y2="475.21" stroke="#111" stroke-width="0.8"/>
<line x1="444.56" y1="482.69" x2="447.16" y2="482.69" stroke="#111" stroke-width="0.8"/>
<path d="M445.86 477.41 L447.40 480.21 L444.32 480.21 Z" fill="#111"/>
<line x1="463.90" y1="473.21" x2="463.90" y2="480.69" stroke="#111" stroke-width="0.85"/>
<line x1="462.60" y1="473.21" x2="465.20" y2="473.21" stroke="#111" stroke-width="0.8"/>
<line x1="462.60" y1="480.69" x2="465.20" y2="480.69" stroke="#111" stroke-width="0.8"/>
<path d="M463.90 475.41 L465.44 478.21 L462.36 478.21 Z" fill="#111"/>
<line x1="481.94" y1="475.71" x2="481.94" y2="483.19" stroke="#111" stroke-width="0.85"/>
<line x1="480.64" y1="475.71" x2="483.24" y2="475.71" stroke="#111" stroke-width="0.8"/>
<line x1="480.64" y1="483.19" x2="483.24" y2="483.19" stroke="#111" stroke-width="0.8"/>
<path d="M481.94 477.91 L483.48 480.71 L480.40 480.71 Z" fill="#111"/>
<line x1="499.98" y1="474.96" x2="499.98" y2="482.44" stroke="#111" stroke-width="0.85"/>
<line x1="498.68" y1="474.96" x2="501.28" y2="474.96" stroke="#111" stroke-width="0.8"/>
<line x1="498.68" y1="482.44" x2="501.28" y2="482.44" stroke="#111" stroke-width="0.8"/>
<path d="M499.98 477.16 L501.52 479.96 L498.44 479.96 Z" fill="#111"/>
<polyline points="373.70,476.21 391.74,475.71 409.78,478.20 427.82,476.95 445.86,476.21 463.90,474.46 481.94,471.97 499.98,473.21" fill="none" stroke="#111" stroke-width="1.0"/>
<line x1="373.70" y1="472.47" x2="373.70" y2="479.95" stroke="#111" stroke-width="0.85"/>
<line x1="372.40" y1="472.47" x2="375.00" y2="472.47" stroke="#111" stroke-width="0.8"/>
<line x1="372.40" y1="479.95" x2="375.00" y2="479.95" stroke="#111" stroke-width="0.8"/>
<circle cx="373.70" cy="476.21" r="1.40" fill="#111"/>
<line x1="391.74" y1="471.97" x2="391.74" y2="479.45" stroke="#111" stroke-width="0.85"/>
<line x1="390.44" y1="471.97" x2="393.04" y2="471.97" stroke="#111" stroke-width="0.8"/>
<line x1="390.44" y1="479.45" x2="393.04" y2="479.45" stroke="#111" stroke-width="0.8"/>
<circle cx="391.74" cy="475.71" r="1.40" fill="#111"/>
<line x1="409.78" y1="474.46" x2="409.78" y2="481.94" stroke="#111" stroke-width="0.85"/>
<line x1="408.48" y1="474.46" x2="411.08" y2="474.46" stroke="#111" stroke-width="0.8"/>
<line x1="408.48" y1="481.94" x2="411.08" y2="481.94" stroke="#111" stroke-width="0.8"/>
<circle cx="409.78" cy="478.20" r="1.40" fill="#111"/>
<line x1="427.82" y1="473.21" x2="427.82" y2="480.69" stroke="#111" stroke-width="0.85"/>
<line x1="426.52" y1="473.21" x2="429.12" y2="473.21" stroke="#111" stroke-width="0.8"/>
<line x1="426.52" y1="480.69" x2="429.12" y2="480.69" stroke="#111" stroke-width="0.8"/>
<circle cx="427.82" cy="476.95" r="1.40" fill="#111"/>
<line x1="445.86" y1="472.47" x2="445.86" y2="479.95" stroke="#111" stroke-width="0.85"/>
<line x1="444.56" y1="472.47" x2="447.16" y2="472.47" stroke="#111" stroke-width="0.8"/>
<line x1="444.56" y1="479.95" x2="447.16" y2="479.95" stroke="#111" stroke-width="0.8"/>
<circle cx="445.86" cy="476.21" r="1.40" fill="#111"/>
<line x1="463.90" y1="470.72" x2="463.90" y2="478.20" stroke="#111" stroke-width="0.85"/>
<line x1="462.60" y1="470.72" x2="465.20" y2="470.72" stroke="#111" stroke-width="0.8"/>
<line x1="462.60" y1="478.20" x2="465.20" y2="478.20" stroke="#111" stroke-width="0.8"/>
<circle cx="463.90" cy="474.46" r="1.40" fill="#111"/>
<line x1="481.94" y1="468.23" x2="481.94" y2="475.71" stroke="#111" stroke-width="0.85"/>
<line x1="480.64" y1="468.23" x2="483.24" y2="468.23" stroke="#111" stroke-width="0.8"/>
<line x1="480.64" y1="475.71" x2="483.24" y2="475.71" stroke="#111" stroke-width="0.8"/>
<circle cx="481.94" cy="471.97" r="1.40" fill="#111"/>
<line x1="499.98" y1="469.47" x2="499.98" y2="476.95" stroke="#111" stroke-width="0.85"/>
<line x1="498.68" y1="469.47" x2="501.28" y2="469.47" stroke="#111" stroke-width="0.8"/>
<line x1="498.68" y1="476.95" x2="501.28" y2="476.95" stroke="#111" stroke-width="0.8"/>
<circle cx="499.98" cy="473.21" r="1.40" fill="#111"/>
<line x1="384.00" y1="498.50" x2="392.60" y2="498.50" stroke="#111" stroke-width="0.9"/>
<circle cx="388.30" cy="498.20" r="1.30" fill="#111"/>
<line x1="384.00" y1="505.50" x2="392.60" y2="505.50" stroke="#111" stroke-width="0.9"/>
<path d="M388.30 503.57 L389.73 506.17 L386.87 506.17 Z" fill="#111"/>
<line x1="384.00" y1="512.50" x2="392.60" y2="512.50" stroke="#111" stroke-width="0.9"/>
<rect x="387.13" y="511.53" width="2.34" height="2.34" fill="#111"/>
<line x1="374.50" y1="593.30" x2="374.50" y2="668.40" stroke="#111" stroke-width="0.9"/>
<line x1="370.60" y1="668.50" x2="374.00" y2="668.50" stroke="#111" stroke-width="0.9"/>
<line x1="370.60" y1="643.50" x2="374.00" y2="643.50" stroke="#111" stroke-width="0.9"/>
<line x1="370.60" y1="618.50" x2="374.00" y2="618.50" stroke="#111" stroke-width="0.9"/>
<line x1="370.60" y1="593.50" x2="374.00" y2="593.50" stroke="#111" stroke-width="0.9"/>
<line x1="373.60" y1="668.50" x2="509.70" y2="668.50" stroke="#111" stroke-width="1.0"/>
<line x1="374.00" y1="668.00" x2="374.00" y2="670.10" stroke="#111" stroke-width="0.8"/>
<line x1="377.56" y1="668.00" x2="377.56" y2="670.10" stroke="#111" stroke-width="0.8"/>
<line x1="381.12" y1="668.00" x2="381.12" y2="670.10" stroke="#111" stroke-width="0.8"/>
<line x1="384.68" y1="668.00" x2="384.68" y2="670.10" stroke="#111" stroke-width="0.8"/>
<line x1="388.24" y1="668.00" x2="388.24" y2="670.10" stroke="#111" stroke-width="0.8"/>
<line x1="391.80" y1="668.00" x2="391.80" y2="670.10" stroke="#111" stroke-width="0.8"/>
<line x1="395.36" y1="668.00" x2="395.36" y2="670.10" stroke="#111" stroke-width="0.8"/>
<line x1="398.92" y1="668.00" x2="398.92" y2="670.10" stroke="#111" stroke-width="0.8"/>
<line x1="402.48" y1="668.00" x2="402.48" y2="670.10" stroke="#111" stroke-width="0.8"/>
<line x1="406.04" y1="668.00" x2="406.04" y2="670.10" stroke="#111" stroke-width="0.8"/>
<line x1="409.61" y1="668.00" x2="409.61" y2="670.10" stroke="#111" stroke-width="0.8"/>
<line x1="413.17" y1="668.00" x2="413.17" y2="670.10" stroke="#111" stroke-width="0.8"/>
<line x1="416.73" y1="668.00" x2="416.73" y2="670.10" stroke="#111" stroke-width="0.8"/>
<line x1="420.29" y1="668.00" x2="420.29" y2="670.10" stroke="#111" stroke-width="0.8"/>
<line x1="423.85" y1="668.00" x2="423.85" y2="670.10" stroke="#111" stroke-width="0.8"/>
<line x1="427.41" y1="668.00" x2="427.41" y2="670.10" stroke="#111" stroke-width="0.8"/>
<line x1="430.97" y1="668.00" x2="430.97" y2="670.10" stroke="#111" stroke-width="0.8"/>
<line x1="434.53" y1="668.00" x2="434.53" y2="670.10" stroke="#111" stroke-width="0.8"/>
<line x1="438.09" y1="668.00" x2="438.09" y2="670.10" stroke="#111" stroke-width="0.8"/>
<line x1="441.65" y1="668.00" x2="441.65" y2="670.10" stroke="#111" stroke-width="0.8"/>
<line x1="445.21" y1="668.00" x2="445.21" y2="670.10" stroke="#111" stroke-width="0.8"/>
<line x1="448.77" y1="668.00" x2="448.77" y2="670.10" stroke="#111" stroke-width="0.8"/>
<line x1="452.33" y1="668.00" x2="452.33" y2="670.10" stroke="#111" stroke-width="0.8"/>
<line x1="455.89" y1="668.00" x2="455.89" y2="670.10" stroke="#111" stroke-width="0.8"/>
<line x1="459.45" y1="668.00" x2="459.45" y2="670.10" stroke="#111" stroke-width="0.8"/>
<line x1="463.01" y1="668.00" x2="463.01" y2="670.10" stroke="#111" stroke-width="0.8"/>
<line x1="466.57" y1="668.00" x2="466.57" y2="670.10" stroke="#111" stroke-width="0.8"/>
<line x1="470.13" y1="668.00" x2="470.13" y2="670.10" stroke="#111" stroke-width="0.8"/>
<line x1="473.69" y1="668.00" x2="473.69" y2="670.10" stroke="#111" stroke-width="0.8"/>
<line x1="477.26" y1="668.00" x2="477.26" y2="670.10" stroke="#111" stroke-width="0.8"/>
<line x1="480.82" y1="668.00" x2="480.82" y2="670.10" stroke="#111" stroke-width="0.8"/>
<line x1="484.38" y1="668.00" x2="484.38" y2="670.10" stroke="#111" stroke-width="0.8"/>
<line x1="487.94" y1="668.00" x2="487.94" y2="670.10" stroke="#111" stroke-width="0.8"/>
<line x1="491.50" y1="668.00" x2="491.50" y2="670.10" stroke="#111" stroke-width="0.8"/>
<line x1="495.06" y1="668.00" x2="495.06" y2="670.10" stroke="#111" stroke-width="0.8"/>
<line x1="498.62" y1="668.00" x2="498.62" y2="670.10" stroke="#111" stroke-width="0.8"/>
<line x1="502.18" y1="668.00" x2="502.18" y2="670.10" stroke="#111" stroke-width="0.8"/>
<line x1="505.74" y1="668.00" x2="505.74" y2="670.10" stroke="#111" stroke-width="0.8"/>
<line x1="509.30" y1="668.00" x2="509.30" y2="670.10" stroke="#111" stroke-width="0.8"/>
<line x1="374.50" y1="668.00" x2="374.50" y2="671.00" stroke="#111" stroke-width="0.9"/>
<line x1="419.50" y1="668.00" x2="419.50" y2="671.00" stroke="#111" stroke-width="0.9"/>
<line x1="464.50" y1="668.00" x2="464.50" y2="671.00" stroke="#111" stroke-width="0.9"/>
<line x1="509.50" y1="668.00" x2="509.50" y2="671.00" stroke="#111" stroke-width="0.9"/>
<polyline points="374.00,620.94 392.04,618.46 410.08,617.22 428.12,611.03 446.16,614.74 464.20,615.98 482.24,617.22 500.28,613.51" fill="none" stroke="#888" stroke-width="1.0"/>
<line x1="374.00" y1="617.22" x2="374.00" y2="624.65" stroke="#888" stroke-width="0.85"/>
<line x1="372.70" y1="617.22" x2="375.30" y2="617.22" stroke="#888" stroke-width="0.8"/>
<line x1="372.70" y1="624.65" x2="375.30" y2="624.65" stroke="#888" stroke-width="0.8"/>
<path d="M374.00 622.48 L375.54 619.68 L372.46 619.68 Z" fill="#888"/>
<line x1="392.04" y1="614.74" x2="392.04" y2="622.18" stroke="#888" stroke-width="0.85"/>
<line x1="390.74" y1="614.74" x2="393.34" y2="614.74" stroke="#888" stroke-width="0.8"/>
<line x1="390.74" y1="622.18" x2="393.34" y2="622.18" stroke="#888" stroke-width="0.8"/>
<path d="M392.04 620.00 L393.58 617.20 L390.50 617.20 Z" fill="#888"/>
<line x1="410.08" y1="613.51" x2="410.08" y2="620.94" stroke="#888" stroke-width="0.85"/>
<line x1="408.78" y1="613.51" x2="411.38" y2="613.51" stroke="#888" stroke-width="0.8"/>
<line x1="408.78" y1="620.94" x2="411.38" y2="620.94" stroke="#888" stroke-width="0.8"/>
<path d="M410.08 618.76 L411.62 615.96 L408.54 615.96 Z" fill="#888"/>
<line x1="428.12" y1="607.31" x2="428.12" y2="614.74" stroke="#888" stroke-width="0.85"/>
<line x1="426.82" y1="607.31" x2="429.42" y2="607.31" stroke="#888" stroke-width="0.8"/>
<line x1="426.82" y1="614.74" x2="429.42" y2="614.74" stroke="#888" stroke-width="0.8"/>
<path d="M428.12 612.57 L429.66 609.77 L426.58 609.77 Z" fill="#888"/>
<line x1="446.16" y1="611.03" x2="446.16" y2="618.46" stroke="#888" stroke-width="0.85"/>
<line x1="444.86" y1="611.03" x2="447.46" y2="611.03" stroke="#888" stroke-width="0.8"/>
<line x1="444.86" y1="618.46" x2="447.46" y2="618.46" stroke="#888" stroke-width="0.8"/>
<path d="M446.16 616.28 L447.70 613.48 L444.62 613.48 Z" fill="#888"/>
<line x1="464.20" y1="612.27" x2="464.20" y2="619.70" stroke="#888" stroke-width="0.85"/>
<line x1="462.90" y1="612.27" x2="465.50" y2="612.27" stroke="#888" stroke-width="0.8"/>
<line x1="462.90" y1="619.70" x2="465.50" y2="619.70" stroke="#888" stroke-width="0.8"/>
<path d="M464.20 617.52 L465.74 614.72 L462.66 614.72 Z" fill="#888"/>
<line x1="482.24" y1="613.51" x2="482.24" y2="620.94" stroke="#888" stroke-width="0.85"/>
<line x1="480.94" y1="613.51" x2="483.54" y2="613.51" stroke="#888" stroke-width="0.8"/>
<line x1="480.94" y1="620.94" x2="483.54" y2="620.94" stroke="#888" stroke-width="0.8"/>
<path d="M482.24 618.76 L483.78 615.96 L480.70 615.96 Z" fill="#888"/>
<line x1="500.28" y1="609.79" x2="500.28" y2="617.22" stroke="#888" stroke-width="0.85"/>
<line x1="498.98" y1="609.79" x2="501.58" y2="609.79" stroke="#888" stroke-width="0.8"/>
<line x1="498.98" y1="617.22" x2="501.58" y2="617.22" stroke="#888" stroke-width="0.8"/>
<path d="M500.28 615.05 L501.82 612.25 L498.74 612.25 Z" fill="#888"/>
<polyline points="374.00,618.96 392.04,617.96 410.08,614.74 428.12,615.49 446.16,613.01 464.20,613.51 482.24,615.98 500.28,613.51" fill="none" stroke="#111" stroke-width="1.0"/>
<line x1="374.00" y1="615.24" x2="374.00" y2="622.67" stroke="#111" stroke-width="0.85"/>
<line x1="372.70" y1="615.24" x2="375.30" y2="615.24" stroke="#111" stroke-width="0.8"/>
<line x1="372.70" y1="622.67" x2="375.30" y2="622.67" stroke="#111" stroke-width="0.8"/>
<rect x="372.74" y="617.70" width="2.52" height="2.52" fill="#111"/>
<line x1="392.04" y1="614.25" x2="392.04" y2="621.68" stroke="#111" stroke-width="0.85"/>
<line x1="390.74" y1="614.25" x2="393.34" y2="614.25" stroke="#111" stroke-width="0.8"/>
<line x1="390.74" y1="621.68" x2="393.34" y2="621.68" stroke="#111" stroke-width="0.8"/>
<rect x="390.78" y="616.70" width="2.52" height="2.52" fill="#111"/>
<line x1="410.08" y1="611.03" x2="410.08" y2="618.46" stroke="#111" stroke-width="0.85"/>
<line x1="408.78" y1="611.03" x2="411.38" y2="611.03" stroke="#111" stroke-width="0.8"/>
<line x1="408.78" y1="618.46" x2="411.38" y2="618.46" stroke="#111" stroke-width="0.8"/>
<rect x="408.82" y="613.48" width="2.52" height="2.52" fill="#111"/>
<line x1="428.12" y1="611.77" x2="428.12" y2="619.20" stroke="#111" stroke-width="0.85"/>
<line x1="426.82" y1="611.77" x2="429.42" y2="611.77" stroke="#111" stroke-width="0.8"/>
<line x1="426.82" y1="619.20" x2="429.42" y2="619.20" stroke="#111" stroke-width="0.8"/>
<rect x="426.86" y="614.23" width="2.52" height="2.52" fill="#111"/>
<line x1="446.16" y1="609.30" x2="446.16" y2="616.73" stroke="#111" stroke-width="0.85"/>
<line x1="444.86" y1="609.30" x2="447.46" y2="609.30" stroke="#111" stroke-width="0.8"/>
<line x1="444.86" y1="616.73" x2="447.46" y2="616.73" stroke="#111" stroke-width="0.8"/>
<rect x="444.90" y="611.75" width="2.52" height="2.52" fill="#111"/>
<line x1="464.20" y1="609.79" x2="464.20" y2="617.22" stroke="#111" stroke-width="0.85"/>
<line x1="462.90" y1="609.79" x2="465.50" y2="609.79" stroke="#111" stroke-width="0.8"/>
<line x1="462.90" y1="617.22" x2="465.50" y2="617.22" stroke="#111" stroke-width="0.8"/>
<rect x="462.94" y="612.25" width="2.52" height="2.52" fill="#111"/>
<line x1="482.24" y1="612.27" x2="482.24" y2="619.70" stroke="#111" stroke-width="0.85"/>
<line x1="480.94" y1="612.27" x2="483.54" y2="612.27" stroke="#111" stroke-width="0.8"/>
<line x1="480.94" y1="619.70" x2="483.54" y2="619.70" stroke="#111" stroke-width="0.8"/>
<rect x="480.98" y="614.72" width="2.52" height="2.52" fill="#111"/>
<line x1="500.28" y1="609.79" x2="500.28" y2="617.22" stroke="#111" stroke-width="0.85"/>
<line x1="498.98" y1="609.79" x2="501.58" y2="609.79" stroke="#111" stroke-width="0.8"/>
<line x1="498.98" y1="617.22" x2="501.58" y2="617.22" stroke="#111" stroke-width="0.8"/>
<rect x="499.02" y="612.25" width="2.52" height="2.52" fill="#111"/>
<polyline points="374.00,619.70 392.04,618.46 410.08,613.51 428.12,615.98 446.16,612.27 464.20,615.98 482.24,614.74 500.28,613.51" fill="none" stroke="#111" stroke-width="1.0"/>
<line x1="374.00" y1="615.98" x2="374.00" y2="623.41" stroke="#111" stroke-width="0.85"/>
<line x1="372.70" y1="615.98" x2="375.30" y2="615.98" stroke="#111" stroke-width="0.8"/>
<line x1="372.70" y1="623.41" x2="375.30" y2="623.41" stroke="#111" stroke-width="0.8"/>
<path d="M374.00 618.16 L375.54 620.96 L372.46 620.96 Z" fill="#111"/>
<line x1="392.04" y1="614.74" x2="392.04" y2="622.18" stroke="#111" stroke-width="0.85"/>
<line x1="390.74" y1="614.74" x2="393.34" y2="614.74" stroke="#111" stroke-width="0.8"/>
<line x1="390.74" y1="622.18" x2="393.34" y2="622.18" stroke="#111" stroke-width="0.8"/>
<path d="M392.04 616.92 L393.58 619.72 L390.50 619.72 Z" fill="#111"/>
<line x1="410.08" y1="609.79" x2="410.08" y2="617.22" stroke="#111" stroke-width="0.85"/>
<line x1="408.78" y1="609.79" x2="411.38" y2="609.79" stroke="#111" stroke-width="0.8"/>
<line x1="408.78" y1="617.22" x2="411.38" y2="617.22" stroke="#111" stroke-width="0.8"/>
<path d="M410.08 611.97 L411.62 614.77 L408.54 614.77 Z" fill="#111"/>
<line x1="428.12" y1="612.27" x2="428.12" y2="619.70" stroke="#111" stroke-width="0.85"/>
<line x1="426.82" y1="612.27" x2="429.42" y2="612.27" stroke="#111" stroke-width="0.8"/>
<line x1="426.82" y1="619.70" x2="429.42" y2="619.70" stroke="#111" stroke-width="0.8"/>
<path d="M428.12 614.44 L429.66 617.24 L426.58 617.24 Z" fill="#111"/>
<line x1="446.16" y1="608.55" x2="446.16" y2="615.98" stroke="#111" stroke-width="0.85"/>
<line x1="444.86" y1="608.55" x2="447.46" y2="608.55" stroke="#111" stroke-width="0.8"/>
<line x1="444.86" y1="615.98" x2="447.46" y2="615.98" stroke="#111" stroke-width="0.8"/>
<path d="M446.16 610.73 L447.70 613.53 L444.62 613.53 Z" fill="#111"/>
<line x1="464.20" y1="612.27" x2="464.20" y2="619.70" stroke="#111" stroke-width="0.85"/>
<line x1="462.90" y1="612.27" x2="465.50" y2="612.27" stroke="#111" stroke-width="0.8"/>
<line x1="462.90" y1="619.70" x2="465.50" y2="619.70" stroke="#111" stroke-width="0.8"/>
<path d="M464.20 614.44 L465.74 617.24 L462.66 617.24 Z" fill="#111"/>
<line x1="482.24" y1="611.03" x2="482.24" y2="618.46" stroke="#111" stroke-width="0.85"/>
<line x1="480.94" y1="611.03" x2="483.54" y2="611.03" stroke="#111" stroke-width="0.8"/>
<line x1="480.94" y1="618.46" x2="483.54" y2="618.46" stroke="#111" stroke-width="0.8"/>
<path d="M482.24 613.20 L483.78 616.00 L480.70 616.00 Z" fill="#111"/>
<line x1="500.28" y1="609.79" x2="500.28" y2="617.22" stroke="#111" stroke-width="0.85"/>
<line x1="498.98" y1="609.79" x2="501.58" y2="609.79" stroke="#111" stroke-width="0.8"/>
<line x1="498.98" y1="617.22" x2="501.58" y2="617.22" stroke="#111" stroke-width="0.8"/>
<path d="M500.28 611.97 L501.82 614.77 L498.74 614.77 Z" fill="#111"/>
<polyline points="374.00,618.46 392.04,617.22 410.08,614.74 428.12,612.27 446.16,613.51 464.20,611.52 482.24,612.27 500.28,611.52" fill="none" stroke="#111" stroke-width="1.0"/>
<line x1="374.00" y1="614.74" x2="374.00" y2="622.18" stroke="#111" stroke-width="0.85"/>
<line x1="372.70" y1="614.74" x2="375.30" y2="614.74" stroke="#111" stroke-width="0.8"/>
<line x1="372.70" y1="622.18" x2="375.30" y2="622.18" stroke="#111" stroke-width="0.8"/>
<circle cx="374.00" cy="618.46" r="1.40" fill="#111"/>
<line x1="392.04" y1="613.51" x2="392.04" y2="620.94" stroke="#111" stroke-width="0.85"/>
<line x1="390.74" y1="613.51" x2="393.34" y2="613.51" stroke="#111" stroke-width="0.8"/>
<line x1="390.74" y1="620.94" x2="393.34" y2="620.94" stroke="#111" stroke-width="0.8"/>
<circle cx="392.04" cy="617.22" r="1.40" fill="#111"/>
<line x1="410.08" y1="611.03" x2="410.08" y2="618.46" stroke="#111" stroke-width="0.85"/>
<line x1="408.78" y1="611.03" x2="411.38" y2="611.03" stroke="#111" stroke-width="0.8"/>
<line x1="408.78" y1="618.46" x2="411.38" y2="618.46" stroke="#111" stroke-width="0.8"/>
<circle cx="410.08" cy="614.74" r="1.40" fill="#111"/>
<line x1="428.12" y1="608.55" x2="428.12" y2="615.98" stroke="#111" stroke-width="0.85"/>
<line x1="426.82" y1="608.55" x2="429.42" y2="608.55" stroke="#111" stroke-width="0.8"/>
<line x1="426.82" y1="615.98" x2="429.42" y2="615.98" stroke="#111" stroke-width="0.8"/>
<circle cx="428.12" cy="612.27" r="1.40" fill="#111"/>
<line x1="446.16" y1="609.79" x2="446.16" y2="617.22" stroke="#111" stroke-width="0.85"/>
<line x1="444.86" y1="609.79" x2="447.46" y2="609.79" stroke="#111" stroke-width="0.8"/>
<line x1="444.86" y1="617.22" x2="447.46" y2="617.22" stroke="#111" stroke-width="0.8"/>
<circle cx="446.16" cy="613.51" r="1.40" fill="#111"/>
<line x1="464.20" y1="607.81" x2="464.20" y2="615.24" stroke="#111" stroke-width="0.85"/>
<line x1="462.90" y1="607.81" x2="465.50" y2="607.81" stroke="#111" stroke-width="0.8"/>
<line x1="462.90" y1="615.24" x2="465.50" y2="615.24" stroke="#111" stroke-width="0.8"/>
<circle cx="464.20" cy="611.52" r="1.40" fill="#111"/>
<line x1="482.24" y1="608.55" x2="482.24" y2="615.98" stroke="#111" stroke-width="0.85"/>
<line x1="480.94" y1="608.55" x2="483.54" y2="608.55" stroke="#111" stroke-width="0.8"/>
<line x1="480.94" y1="615.98" x2="483.54" y2="615.98" stroke="#111" stroke-width="0.8"/>
<circle cx="482.24" cy="612.27" r="1.40" fill="#111"/>
<line x1="500.28" y1="607.81" x2="500.28" y2="615.24" stroke="#111" stroke-width="0.85"/>
<line x1="498.98" y1="607.81" x2="501.58" y2="607.81" stroke="#111" stroke-width="0.8"/>
<line x1="498.98" y1="615.24" x2="501.58" y2="615.24" stroke="#111" stroke-width="0.8"/>
<circle cx="500.28" cy="611.52" r="1.40" fill="#111"/>
<line x1="383.40" y1="632.50" x2="393.30" y2="632.50" stroke="#111" stroke-width="0.9"/>
<circle cx="388.35" cy="632.60" r="1.30" fill="#111"/>
<line x1="383.40" y1="639.50" x2="393.30" y2="639.50" stroke="#111" stroke-width="0.9"/>
<path d="M388.35 638.17 L389.78 640.77 L386.92 640.77 Z" fill="#111"/>
<line x1="383.40" y1="646.50" x2="393.30" y2="646.50" stroke="#111" stroke-width="0.9"/>
<rect x="387.18" y="645.63" width="2.34" height="2.34" fill="#111"/>
<line x1="383.40" y1="654.50" x2="393.30" y2="654.50" stroke="#888" stroke-width="0.9"/>
<path d="M388.35 655.43 L389.78 652.83 L386.92 652.83 Z" fill="#888"/>
<line x1="48.50" y1="591.60" x2="48.50" y2="671.10" stroke="#111" stroke-width="0.9"/>
<line x1="45.10" y1="670.50" x2="48.50" y2="670.50" stroke="#111" stroke-width="0.9"/>
<line x1="45.10" y1="654.50" x2="48.50" y2="654.50" stroke="#111" stroke-width="0.9"/>
<line x1="45.10" y1="639.50" x2="48.50" y2="639.50" stroke="#111" stroke-width="0.9"/>
<line x1="45.10" y1="623.50" x2="48.50" y2="623.50" stroke="#111" stroke-width="0.9"/>
<line x1="45.10" y1="607.50" x2="48.50" y2="607.50" stroke="#111" stroke-width="0.9"/>
<line x1="45.10" y1="591.50" x2="48.50" y2="591.50" stroke="#111" stroke-width="0.9"/>
<line x1="48.10" y1="670.50" x2="166.80" y2="670.50" stroke="#111" stroke-width="1.0"/>
<line x1="48.50" y1="670.70" x2="48.50" y2="672.80" stroke="#111" stroke-width="0.8"/>
<line x1="50.96" y1="670.70" x2="50.96" y2="672.80" stroke="#111" stroke-width="0.8"/>
<line x1="53.41" y1="670.70" x2="53.41" y2="672.80" stroke="#111" stroke-width="0.8"/>
<line x1="55.87" y1="670.70" x2="55.87" y2="672.80" stroke="#111" stroke-width="0.8"/>
<line x1="58.33" y1="670.70" x2="58.33" y2="672.80" stroke="#111" stroke-width="0.8"/>
<line x1="60.78" y1="670.70" x2="60.78" y2="672.80" stroke="#111" stroke-width="0.8"/>
<line x1="63.24" y1="670.70" x2="63.24" y2="672.80" stroke="#111" stroke-width="0.8"/>
<line x1="65.69" y1="670.70" x2="65.69" y2="672.80" stroke="#111" stroke-width="0.8"/>
<line x1="68.15" y1="670.70" x2="68.15" y2="672.80" stroke="#111" stroke-width="0.8"/>
<line x1="70.61" y1="670.70" x2="70.61" y2="672.80" stroke="#111" stroke-width="0.8"/>
<line x1="73.06" y1="670.70" x2="73.06" y2="672.80" stroke="#111" stroke-width="0.8"/>
<line x1="75.52" y1="670.70" x2="75.52" y2="672.80" stroke="#111" stroke-width="0.8"/>
<line x1="77.97" y1="670.70" x2="77.97" y2="672.80" stroke="#111" stroke-width="0.8"/>
<line x1="80.43" y1="670.70" x2="80.43" y2="672.80" stroke="#111" stroke-width="0.8"/>
<line x1="82.89" y1="670.70" x2="82.89" y2="672.80" stroke="#111" stroke-width="0.8"/>
<line x1="85.34" y1="670.70" x2="85.34" y2="672.80" stroke="#111" stroke-width="0.8"/>
<line x1="87.80" y1="670.70" x2="87.80" y2="672.80" stroke="#111" stroke-width="0.8"/>
<line x1="90.26" y1="670.70" x2="90.26" y2="672.80" stroke="#111" stroke-width="0.8"/>
<line x1="92.71" y1="670.70" x2="92.71" y2="672.80" stroke="#111" stroke-width="0.8"/>
<line x1="95.17" y1="670.70" x2="95.17" y2="672.80" stroke="#111" stroke-width="0.8"/>
<line x1="97.62" y1="670.70" x2="97.62" y2="672.80" stroke="#111" stroke-width="0.8"/>
<line x1="100.08" y1="670.70" x2="100.08" y2="672.80" stroke="#111" stroke-width="0.8"/>
<line x1="102.54" y1="670.70" x2="102.54" y2="672.80" stroke="#111" stroke-width="0.8"/>
<line x1="104.99" y1="670.70" x2="104.99" y2="672.80" stroke="#111" stroke-width="0.8"/>
<line x1="107.45" y1="670.70" x2="107.45" y2="672.80" stroke="#111" stroke-width="0.8"/>
<line x1="109.91" y1="670.70" x2="109.91" y2="672.80" stroke="#111" stroke-width="0.8"/>
<line x1="112.36" y1="670.70" x2="112.36" y2="672.80" stroke="#111" stroke-width="0.8"/>
<line x1="114.82" y1="670.70" x2="114.82" y2="672.80" stroke="#111" stroke-width="0.8"/>
<line x1="117.28" y1="670.70" x2="117.28" y2="672.80" stroke="#111" stroke-width="0.8"/>
<line x1="119.73" y1="670.70" x2="119.73" y2="672.80" stroke="#111" stroke-width="0.8"/>
<line x1="122.19" y1="670.70" x2="122.19" y2="672.80" stroke="#111" stroke-width="0.8"/>
<line x1="124.64" y1="670.70" x2="124.64" y2="672.80" stroke="#111" stroke-width="0.8"/>
<line x1="127.10" y1="670.70" x2="127.10" y2="672.80" stroke="#111" stroke-width="0.8"/>
<line x1="129.56" y1="670.70" x2="129.56" y2="672.80" stroke="#111" stroke-width="0.8"/>
<line x1="132.01" y1="670.70" x2="132.01" y2="672.80" stroke="#111" stroke-width="0.8"/>
<line x1="134.47" y1="670.70" x2="134.47" y2="672.80" stroke="#111" stroke-width="0.8"/>
<line x1="136.93" y1="670.70" x2="136.93" y2="672.80" stroke="#111" stroke-width="0.8"/>
<line x1="139.38" y1="670.70" x2="139.38" y2="672.80" stroke="#111" stroke-width="0.8"/>
<line x1="141.84" y1="670.70" x2="141.84" y2="672.80" stroke="#111" stroke-width="0.8"/>
<line x1="144.29" y1="670.70" x2="144.29" y2="672.80" stroke="#111" stroke-width="0.8"/>
<line x1="146.75" y1="670.70" x2="146.75" y2="672.80" stroke="#111" stroke-width="0.8"/>
<line x1="149.21" y1="670.70" x2="149.21" y2="672.80" stroke="#111" stroke-width="0.8"/>
<line x1="151.66" y1="670.70" x2="151.66" y2="672.80" stroke="#111" stroke-width="0.8"/>
<line x1="154.12" y1="670.70" x2="154.12" y2="672.80" stroke="#111" stroke-width="0.8"/>
<line x1="156.57" y1="670.70" x2="156.57" y2="672.80" stroke="#111" stroke-width="0.8"/>
<line x1="159.03" y1="670.70" x2="159.03" y2="672.80" stroke="#111" stroke-width="0.8"/>
<line x1="161.49" y1="670.70" x2="161.49" y2="672.80" stroke="#111" stroke-width="0.8"/>
<line x1="163.94" y1="670.70" x2="163.94" y2="672.80" stroke="#111" stroke-width="0.8"/>
<line x1="166.40" y1="670.70" x2="166.40" y2="672.80" stroke="#111" stroke-width="0.8"/>
<line x1="48.50" y1="670.70" x2="48.50" y2="673.70" stroke="#111" stroke-width="0.9"/>
<line x1="87.50" y1="670.70" x2="87.50" y2="673.70" stroke="#111" stroke-width="0.9"/>
<line x1="127.50" y1="670.70" x2="127.50" y2="673.70" stroke="#111" stroke-width="0.9"/>
<line x1="166.50" y1="670.70" x2="166.50" y2="673.70" stroke="#111" stroke-width="0.9"/>
<polyline points="48.50,662.78 64.22,663.18 79.94,663.57 95.66,663.97 111.38,665.16 127.10,666.34 142.82,667.53 158.54,669.51" fill="none" stroke="#888" stroke-width="0.7"/>
<path d="M48.50 663.99 L49.71 661.79 L47.29 661.79 Z" fill="#888"/>
<line x1="64.22" y1="662.18" x2="64.22" y2="664.18" stroke="#888" stroke-width="0.85"/>
<line x1="62.92" y1="662.18" x2="65.52" y2="662.18" stroke="#888" stroke-width="0.8"/>
<line x1="62.92" y1="664.18" x2="65.52" y2="664.18" stroke="#888" stroke-width="0.8"/>
<path d="M64.22 664.39 L65.43 662.19 L63.01 662.19 Z" fill="#888"/>
<line x1="79.94" y1="662.07" x2="79.94" y2="665.07" stroke="#888" stroke-width="0.85"/>
<line x1="78.64" y1="662.07" x2="81.24" y2="662.07" stroke="#888" stroke-width="0.8"/>
<line x1="78.64" y1="665.07" x2="81.24" y2="665.07" stroke="#888" stroke-width="0.8"/>
<path d="M79.94 664.78 L81.15 662.58 L78.73 662.58 Z" fill="#888"/>
<line x1="95.66" y1="661.97" x2="95.66" y2="665.97" stroke="#888" stroke-width="0.85"/>
<line x1="94.36" y1="661.97" x2="96.96" y2="661.97" stroke="#888" stroke-width="0.8"/>
<line x1="94.36" y1="665.97" x2="96.96" y2="665.97" stroke="#888" stroke-width="0.8"/>
<path d="M95.66 665.18 L96.87 662.98 L94.45 662.98 Z" fill="#888"/>
<line x1="111.38" y1="662.66" x2="111.38" y2="667.66" stroke="#888" stroke-width="0.85"/>
<line x1="110.08" y1="662.66" x2="112.68" y2="662.66" stroke="#888" stroke-width="0.8"/>
<line x1="110.08" y1="667.66" x2="112.68" y2="667.66" stroke="#888" stroke-width="0.8"/>
<path d="M111.38 666.37 L112.59 664.17 L110.17 664.17 Z" fill="#888"/>
<line x1="127.10" y1="664.34" x2="127.10" y2="668.34" stroke="#888" stroke-width="0.85"/>
<line x1="125.80" y1="664.34" x2="128.40" y2="664.34" stroke="#888" stroke-width="0.8"/>
<line x1="125.80" y1="668.34" x2="128.40" y2="668.34" stroke="#888" stroke-width="0.8"/>
<path d="M127.10 667.55 L128.31 665.35 L125.89 665.35 Z" fill="#888"/>
<line x1="142.82" y1="665.53" x2="142.82" y2="669.53" stroke="#888" stroke-width="0.85"/>
<line x1="141.52" y1="665.53" x2="144.12" y2="665.53" stroke="#888" stroke-width="0.8"/>
<line x1="141.52" y1="669.53" x2="144.12" y2="669.53" stroke="#888" stroke-width="0.8"/>
<path d="M142.82 668.74 L144.03 666.54 L141.61 666.54 Z" fill="#888"/>
<line x1="158.54" y1="668.01" x2="158.54" y2="671.01" stroke="#888" stroke-width="0.85"/>
<line x1="157.24" y1="668.01" x2="159.84" y2="668.01" stroke="#888" stroke-width="0.8"/>
<line x1="157.24" y1="671.01" x2="159.84" y2="671.01" stroke="#888" stroke-width="0.8"/>
<path d="M158.54 670.72 L159.75 668.52 L157.33 668.52 Z" fill="#888"/>
<polyline points="48.50,662.78 64.22,661.99 79.94,661.59 95.66,661.59 111.38,661.99 127.10,659.61 142.82,657.24 158.54,658.82" fill="none" stroke="#111" stroke-width="0.9"/>
<rect x="47.38" y="661.66" width="2.25" height="2.25" fill="#111"/>
<line x1="64.22" y1="660.99" x2="64.22" y2="662.99" stroke="#111" stroke-width="0.85"/>
<line x1="62.92" y1="660.99" x2="65.52" y2="660.99" stroke="#111" stroke-width="0.8"/>
<line x1="62.92" y1="662.99" x2="65.52" y2="662.99" stroke="#111" stroke-width="0.8"/>
<rect x="63.09" y="660.86" width="2.25" height="2.25" fill="#111"/>
<line x1="79.94" y1="660.09" x2="79.94" y2="663.09" stroke="#111" stroke-width="0.85"/>
<line x1="78.64" y1="660.09" x2="81.24" y2="660.09" stroke="#111" stroke-width="0.8"/>
<line x1="78.64" y1="663.09" x2="81.24" y2="663.09" stroke="#111" stroke-width="0.8"/>
<rect x="78.81" y="660.47" width="2.25" height="2.25" fill="#111"/>
<line x1="95.66" y1="658.09" x2="95.66" y2="665.09" stroke="#111" stroke-width="0.85"/>
<line x1="94.36" y1="658.09" x2="96.96" y2="658.09" stroke="#111" stroke-width="0.8"/>
<line x1="94.36" y1="665.09" x2="96.96" y2="665.09" stroke="#111" stroke-width="0.8"/>
<rect x="94.53" y="660.47" width="2.25" height="2.25" fill="#111"/>
<line x1="111.38" y1="657.99" x2="111.38" y2="665.99" stroke="#111" stroke-width="0.85"/>
<line x1="110.08" y1="657.99" x2="112.68" y2="657.99" stroke="#111" stroke-width="0.8"/>
<line x1="110.08" y1="665.99" x2="112.68" y2="665.99" stroke="#111" stroke-width="0.8"/>
<rect x="110.25" y="660.86" width="2.25" height="2.25" fill="#111"/>
<line x1="127.10" y1="655.61" x2="127.10" y2="663.61" stroke="#111" stroke-width="0.85"/>
<line x1="125.80" y1="655.61" x2="128.40" y2="655.61" stroke="#111" stroke-width="0.8"/>
<line x1="125.80" y1="663.61" x2="128.40" y2="663.61" stroke="#111" stroke-width="0.8"/>
<rect x="125.98" y="658.49" width="2.25" height="2.25" fill="#111"/>
<line x1="142.82" y1="654.74" x2="142.82" y2="659.74" stroke="#111" stroke-width="0.85"/>
<line x1="141.52" y1="654.74" x2="144.12" y2="654.74" stroke="#111" stroke-width="0.8"/>
<line x1="141.52" y1="659.74" x2="144.12" y2="659.74" stroke="#111" stroke-width="0.8"/>
<rect x="141.69" y="656.11" width="2.25" height="2.25" fill="#111"/>
<line x1="158.54" y1="655.82" x2="158.54" y2="661.82" stroke="#111" stroke-width="0.85"/>
<line x1="157.24" y1="655.82" x2="159.84" y2="655.82" stroke="#111" stroke-width="0.8"/>
<line x1="157.24" y1="661.82" x2="159.84" y2="661.82" stroke="#111" stroke-width="0.8"/>
<rect x="157.42" y="657.70" width="2.25" height="2.25" fill="#111"/>
<polyline points="48.50,662.78 64.22,661.20 79.94,660.80 95.66,661.20 111.38,661.20 127.10,658.03 142.82,655.65 158.54,655.26" fill="none" stroke="#111" stroke-width="0.9"/>
<path d="M48.50 661.35 L49.93 663.95 L47.07 663.95 Z" fill="#111"/>
<line x1="64.22" y1="660.20" x2="64.22" y2="662.20" stroke="#111" stroke-width="0.85"/>
<line x1="62.92" y1="660.20" x2="65.52" y2="660.20" stroke="#111" stroke-width="0.8"/>
<line x1="62.92" y1="662.20" x2="65.52" y2="662.20" stroke="#111" stroke-width="0.8"/>
<path d="M64.22 659.77 L65.65 662.37 L62.79 662.37 Z" fill="#111"/>
<line x1="79.94" y1="659.30" x2="79.94" y2="662.30" stroke="#111" stroke-width="0.85"/>
<line x1="78.64" y1="659.30" x2="81.24" y2="659.30" stroke="#111" stroke-width="0.8"/>
<line x1="78.64" y1="662.30" x2="81.24" y2="662.30" stroke="#111" stroke-width="0.8"/>
<path d="M79.94 659.37 L81.37 661.97 L78.51 661.97 Z" fill="#111"/>
<line x1="95.66" y1="658.20" x2="95.66" y2="664.20" stroke="#111" stroke-width="0.85"/>
<line x1="94.36" y1="658.20" x2="96.96" y2="658.20" stroke="#111" stroke-width="0.8"/>
<line x1="94.36" y1="664.20" x2="96.96" y2="664.20" stroke="#111" stroke-width="0.8"/>
<path d="M95.66 659.77 L97.09 662.37 L94.23 662.37 Z" fill="#111"/>
<line x1="111.38" y1="658.20" x2="111.38" y2="664.20" stroke="#111" stroke-width="0.85"/>
<line x1="110.08" y1="658.20" x2="112.68" y2="658.20" stroke="#111" stroke-width="0.8"/>
<line x1="110.08" y1="664.20" x2="112.68" y2="664.20" stroke="#111" stroke-width="0.8"/>
<path d="M111.38 659.77 L112.81 662.37 L109.95 662.37 Z" fill="#111"/>
<line x1="127.10" y1="655.03" x2="127.10" y2="661.03" stroke="#111" stroke-width="0.85"/>
<line x1="125.80" y1="655.03" x2="128.40" y2="655.03" stroke="#111" stroke-width="0.8"/>
<line x1="125.80" y1="661.03" x2="128.40" y2="661.03" stroke="#111" stroke-width="0.8"/>
<path d="M127.10 656.60 L128.53 659.20 L125.67 659.20 Z" fill="#111"/>
<line x1="142.82" y1="652.65" x2="142.82" y2="658.65" stroke="#111" stroke-width="0.85"/>
<line x1="141.52" y1="652.65" x2="144.12" y2="652.65" stroke="#111" stroke-width="0.8"/>
<line x1="141.52" y1="658.65" x2="144.12" y2="658.65" stroke="#111" stroke-width="0.8"/>
<path d="M142.82 654.22 L144.25 656.82 L141.39 656.82 Z" fill="#111"/>
<line x1="158.54" y1="653.76" x2="158.54" y2="656.76" stroke="#111" stroke-width="0.85"/>
<line x1="157.24" y1="653.76" x2="159.84" y2="653.76" stroke="#111" stroke-width="0.8"/>
<line x1="157.24" y1="656.76" x2="159.84" y2="656.76" stroke="#111" stroke-width="0.8"/>
<path d="M158.54 653.83 L159.97 656.43 L157.11 656.43 Z" fill="#111"/>
<polyline points="48.50,662.78 64.22,660.80 79.94,653.67 95.66,646.94 111.38,645.75 127.10,637.44 142.82,621.60 158.54,611.30" fill="none" stroke="#111" stroke-width="1.2"/>
<circle cx="48.50" cy="662.78" r="1.45" fill="#111"/>
<line x1="64.22" y1="659.30" x2="64.22" y2="662.30" stroke="#111" stroke-width="0.85"/>
<line x1="62.92" y1="659.30" x2="65.52" y2="659.30" stroke="#111" stroke-width="0.8"/>
<line x1="62.92" y1="662.30" x2="65.52" y2="662.30" stroke="#111" stroke-width="0.8"/>
<circle cx="64.22" cy="660.80" r="1.45" fill="#111"/>
<line x1="79.94" y1="652.67" x2="79.94" y2="654.67" stroke="#111" stroke-width="0.85"/>
<line x1="78.64" y1="652.67" x2="81.24" y2="652.67" stroke="#111" stroke-width="0.8"/>
<line x1="78.64" y1="654.67" x2="81.24" y2="654.67" stroke="#111" stroke-width="0.8"/>
<circle cx="79.94" cy="653.67" r="1.45" fill="#111"/>
<line x1="95.66" y1="644.44" x2="95.66" y2="649.44" stroke="#111" stroke-width="0.85"/>
<line x1="94.36" y1="644.44" x2="96.96" y2="644.44" stroke="#111" stroke-width="0.8"/>
<line x1="94.36" y1="649.44" x2="96.96" y2="649.44" stroke="#111" stroke-width="0.8"/>
<circle cx="95.66" cy="646.94" r="1.45" fill="#111"/>
<line x1="111.38" y1="644.55" x2="111.38" y2="646.95" stroke="#111" stroke-width="0.85"/>
<line x1="110.08" y1="644.55" x2="112.68" y2="644.55" stroke="#111" stroke-width="0.8"/>
<line x1="110.08" y1="646.95" x2="112.68" y2="646.95" stroke="#111" stroke-width="0.8"/>
<circle cx="111.38" cy="645.75" r="1.45" fill="#111"/>
<line x1="127.10" y1="630.44" x2="127.10" y2="644.44" stroke="#111" stroke-width="0.85"/>
<line x1="125.80" y1="630.44" x2="128.40" y2="630.44" stroke="#111" stroke-width="0.8"/>
<line x1="125.80" y1="644.44" x2="128.40" y2="644.44" stroke="#111" stroke-width="0.8"/>
<circle cx="127.10" cy="637.44" r="1.45" fill="#111"/>
<line x1="142.82" y1="615.60" x2="142.82" y2="627.60" stroke="#111" stroke-width="0.85"/>
<line x1="141.52" y1="615.60" x2="144.12" y2="615.60" stroke="#111" stroke-width="0.8"/>
<line x1="141.52" y1="627.60" x2="144.12" y2="627.60" stroke="#111" stroke-width="0.8"/>
<circle cx="142.82" cy="621.60" r="1.45" fill="#111"/>
<line x1="158.54" y1="609.30" x2="158.54" y2="613.30" stroke="#111" stroke-width="0.85"/>
<line x1="157.24" y1="609.30" x2="159.84" y2="609.30" stroke="#111" stroke-width="0.8"/>
<line x1="157.24" y1="613.30" x2="159.84" y2="613.30" stroke="#111" stroke-width="0.8"/>
<circle cx="158.54" cy="611.30" r="1.45" fill="#111"/>
<line x1="54.80" y1="602.50" x2="63.50" y2="602.50" stroke="#111" stroke-width="0.9"/>
<circle cx="59.15" cy="602.50" r="1.30" fill="#111"/>
<line x1="54.80" y1="608.50" x2="63.50" y2="608.50" stroke="#111" stroke-width="0.9"/>
<path d="M59.15 607.27 L60.58 609.87 L57.72 609.87 Z" fill="#111"/>
<line x1="54.80" y1="615.50" x2="63.50" y2="615.50" stroke="#111" stroke-width="0.9"/>
<rect x="57.98" y="613.83" width="2.34" height="2.34" fill="#111"/>
<line x1="54.80" y1="621.50" x2="63.50" y2="621.50" stroke="#888" stroke-width="0.9"/>
<path d="M59.15 622.63 L60.58 620.03 L57.72 620.03 Z" fill="#888"/>
<line x1="166.50" y1="610.90" x2="166.50" y2="669.90" stroke="#111" stroke-width="0.8"/>
<line x1="165.30" y1="610.90" x2="167.00" y2="610.90" stroke="#111" stroke-width="0.7"/>
<line x1="165.30" y1="669.90" x2="167.00" y2="669.90" stroke="#111" stroke-width="0.7"/>
<line x1="170.50" y1="610.90" x2="170.50" y2="669.20" stroke="#111" stroke-width="0.8"/>
<line x1="168.70" y1="610.90" x2="170.40" y2="610.90" stroke="#111" stroke-width="0.7"/>
<line x1="168.70" y1="669.20" x2="170.40" y2="669.20" stroke="#111" stroke-width="0.7"/>
<line x1="165.30" y1="657.90" x2="166.90" y2="657.90" stroke="#222" stroke-width="0.6"/>
<line x1="168.70" y1="655.00" x2="170.30" y2="655.00" stroke="#222" stroke-width="0.6"/>
<pattern id="h1" width="2" height="1.6" patternUnits="userSpaceOnUse"><rect width="2" height="1.6" fill="#4a4a4a"/><rect width="2" height="0.8" fill="#8a8a8a"/></pattern>
<line x1="219.50" y1="446.80" x2="219.50" y2="526.40" stroke="#111" stroke-width="0.9"/>
<line x1="218.80" y1="526.50" x2="324.20" y2="526.50" stroke="#111" stroke-width="0.9"/>
<line x1="216.10" y1="526.50" x2="219.20" y2="526.50" stroke="#111" stroke-width="0.9"/>
<line x1="216.10" y1="499.50" x2="219.20" y2="499.50" stroke="#111" stroke-width="0.9"/>
<line x1="216.10" y1="473.50" x2="219.20" y2="473.50" stroke="#111" stroke-width="0.9"/>
<line x1="216.10" y1="447.50" x2="219.20" y2="447.50" stroke="#111" stroke-width="0.9"/>
<line x1="243.50" y1="464.46" x2="243.50" y2="458.67" stroke="#111" stroke-width="1.1"/>
<line x1="237.30" y1="458.50" x2="248.70" y2="458.50" stroke="#111" stroke-width="1.1"/>
<rect x="231.00" y="464.46" width="24.00" height="61.54" fill="#000"/>
<line x1="271.50" y1="473.40" x2="271.50" y2="466.04" stroke="#111" stroke-width="1.1"/>
<line x1="266.15" y1="466.50" x2="277.55" y2="466.50" stroke="#111" stroke-width="1.1"/>
<rect x="259.90" y="473.40" width="23.90" height="52.60" fill="#1c1c1c"/>
<line x1="300.50" y1="522.05" x2="300.50" y2="518.64" stroke="#666" stroke-width="1.1"/>
<line x1="294.75" y1="518.50" x2="306.15" y2="518.50" stroke="#666" stroke-width="1.1"/>
<rect x="288.20" y="522.05" width="24.50" height="3.95" fill="url(#h1)"/>
<path d="M242.00 456.00 L242.00 451.00 L299.70 451.00 L299.70 456.00" fill="none" stroke="#666" stroke-width="0.8"/>
<line x1="219.50" y1="584.80" x2="219.50" y2="674.10" stroke="#111" stroke-width="0.9"/>
<line x1="218.80" y1="673.50" x2="322.80" y2="673.50" stroke="#111" stroke-width="0.9"/>
<line x1="216.10" y1="673.50" x2="219.20" y2="673.50" stroke="#111" stroke-width="0.9"/>
<line x1="216.10" y1="661.50" x2="219.20" y2="661.50" stroke="#111" stroke-width="0.9"/>
<line x1="216.10" y1="648.50" x2="219.20" y2="648.50" stroke="#111" stroke-width="0.9"/>
<line x1="216.10" y1="635.50" x2="219.20" y2="635.50" stroke="#111" stroke-width="0.9"/>
<line x1="216.10" y1="623.50" x2="219.20" y2="623.50" stroke="#111" stroke-width="0.9"/>
<line x1="216.10" y1="610.50" x2="219.20" y2="610.50" stroke="#111" stroke-width="0.9"/>
<line x1="216.10" y1="597.50" x2="219.20" y2="597.50" stroke="#111" stroke-width="0.9"/>
<line x1="216.10" y1="585.50" x2="219.20" y2="585.50" stroke="#111" stroke-width="0.9"/>
<line x1="234.50" y1="613.53" x2="234.50" y2="607.72" stroke="#111" stroke-width="1.1"/>
<line x1="228.35" y1="607.50" x2="239.75" y2="607.50" stroke="#111" stroke-width="1.1"/>
<rect x="224.10" y="613.53" width="19.90" height="60.17" fill="#000"/>
<line x1="259.50" y1="656.38" x2="259.50" y2="649.18" stroke="#111" stroke-width="1.1"/>
<line x1="253.60" y1="649.50" x2="265.00" y2="649.50" stroke="#111" stroke-width="1.1"/>
<rect x="249.20" y="656.38" width="20.20" height="17.32" fill="#1c1c1c"/>
<line x1="284.50" y1="658.15" x2="284.50" y2="652.34" stroke="#666" stroke-width="1.1"/>
<line x1="278.70" y1="652.50" x2="290.10" y2="652.50" stroke="#666" stroke-width="1.1"/>
<rect x="274.30" y="658.15" width="20.20" height="15.55" fill="#6a6a6a"/>
<line x1="309.50" y1="671.68" x2="309.50" y2="667.38" stroke="#666" stroke-width="1.1"/>
<line x1="304.10" y1="667.50" x2="315.50" y2="667.50" stroke="#666" stroke-width="1.1"/>
<rect x="299.70" y="671.68" width="20.20" height="2.02" fill="url(#h1)"/>
<path d="M233.90 589.70 L233.90 587.50 L307.80 587.50 L307.80 589.70" fill="none" stroke="#666" stroke-width="0.8"/>
<path d="M233.90 596.00 L233.90 593.80 L282.40 593.80 L282.40 596.00" fill="none" stroke="#666" stroke-width="0.8"/>
<path d="M233.90 601.80 L233.90 599.60 L258.50 599.60 L258.50 601.80" fill="none" stroke="#666" stroke-width="0.8"/>
</g>
<g filter="url(#soft)">
<text x="63.00" y="11.05" font-size="6.9" text-anchor="middle" font-weight="bold" fill="#111" stroke="#111" stroke-width="0.22">GIST430/654</text>
<text x="63.00" y="19.60" font-size="6.9" text-anchor="middle" font-weight="bold" fill="#111" stroke="#111" stroke-width="0.22">IM-Resistant</text>
<text x="8.95" y="62.38" font-size="5.1" text-anchor="middle" font-weight="bold" fill="#111" stroke="#111" stroke-width="0.22" transform="rotate(-90 8.95 62.38)">Relative cell viability</text>
<text x="18.55" y="26.95" font-size="5.0" text-anchor="end" font-weight="bold" fill="#111" stroke="#111" stroke-width="0.22">1.2</text>
<text x="18.55" y="50.13" font-size="5.0" text-anchor="end" font-weight="bold" fill="#111" stroke="#111" stroke-width="0.22">0.8</text>
<text x="18.55" y="73.32" font-size="5.0" text-anchor="end" font-weight="bold" fill="#111" stroke="#111" stroke-width="0.22">0.4</text>
<text x="18.55" y="96.50" font-size="5.0" text-anchor="end" font-weight="bold" fill="#111" stroke="#111" stroke-width="0.22">0.0</text>
<text x="29.63" y="98.35" font-size="5.2" text-anchor="end" font-weight="bold" fill="#111" stroke="#111" stroke-width="0.22" transform="rotate(-90 29.63 98.35)">Ctrl</text>
<text x="38.95" y="98.35" font-size="5.2" text-anchor="end" font-weight="bold" fill="#111" stroke="#111" stroke-width="0.22" transform="rotate(-90 38.95 98.35)">10 nmol/L</text>
<text x="48.35" y="98.35" font-size="5.2" text-anchor="end" font-weight="bold" fill="#111" stroke="#111" stroke-width="0.22" transform="rotate(-90 48.35 98.35)">25 nmol/L</text>
<text x="57.40" y="98.35" font-size="5.2" text-anchor="end" font-weight="bold" fill="#111" stroke="#111" stroke-width="0.22" transform="rotate(-90 57.40 98.35)">50 nmol/L</text>
<text x="66.38" y="98.35" font-size="5.2" text-anchor="end" font-weight="bold" fill="#111" stroke="#111" stroke-width="0.22" transform="rotate(-90 66.38 98.35)">100 nmol/L</text>
<text x="75.67" y="98.35" font-size="5.2" text-anchor="end" font-weight="bold" fill="#111" stroke="#111" stroke-width="0.22" transform="rotate(-90 75.67 98.35)">250 nmol/L</text>
<text x="84.90" y="98.35" font-size="5.2" text-anchor="end" font-weight="bold" fill="#111" stroke="#111" stroke-width="0.22" transform="rotate(-90 84.90 98.35)">500 nmol/L</text>
<text x="94.10" y="98.35" font-size="5.2" text-anchor="end" font-weight="bold" fill="#111" stroke="#111" stroke-width="0.22" transform="rotate(-90 94.10 98.35)">1,000 nmol/L</text>
<text x="167.80" y="11.05" font-size="6.9" text-anchor="middle" font-weight="bold" fill="#111" stroke="#111" stroke-width="0.22">GIST48</text>
<text x="167.80" y="19.60" font-size="6.9" text-anchor="middle" font-weight="bold" fill="#111" stroke="#111" stroke-width="0.22">IM-Resistant</text>
<text x="114.00" y="62.38" font-size="5.1" text-anchor="middle" font-weight="bold" fill="#111" stroke="#111" stroke-width="0.22" transform="rotate(-90 114.00 62.38)">Relative cell viability</text>
<text x="123.60" y="26.95" font-size="5.0" text-anchor="end" font-weight="bold" fill="#111" stroke="#111" stroke-width="0.22">1.2</text>
<text x="123.60" y="50.13" font-size="5.0" text-anchor="end" font-weight="bold" fill="#111" stroke="#111" stroke-width="0.22">0.8</text>
<text x="123.60" y="73.32" font-size="5.0" text-anchor="end" font-weight="bold" fill="#111" stroke="#111" stroke-width="0.22">0.4</text>
<text x="123.60" y="96.50" font-size="5.0" text-anchor="end" font-weight="bold" fill="#111" stroke="#111" stroke-width="0.22">0.0</text>
<text x="136.35" y="98.35" font-size="5.2" text-anchor="end" font-weight="bold" fill="#111" stroke="#111" stroke-width="0.22" transform="rotate(-90 136.35 98.35)">Ctrl</text>
<text x="145.13" y="98.35" font-size="5.2" text-anchor="end" font-weight="bold" fill="#111" stroke="#111" stroke-width="0.22" transform="rotate(-90 145.13 98.35)">10 nmol/L</text>
<text x="153.91" y="98.35" font-size="5.2" text-anchor="end" font-weight="bold" fill="#111" stroke="#111" stroke-width="0.22" transform="rotate(-90 153.91 98.35)">25 nmol/L</text>
<text x="162.69" y="98.35" font-size="5.2" text-anchor="end" font-weight="bold" fill="#111" stroke="#111" stroke-width="0.22" transform="rotate(-90 162.69 98.35)">50 nmol/L</text>
<text x="171.47" y="98.35" font-size="5.2" text-anchor="end" font-weight="bold" fill="#111" stroke="#111" stroke-width="0.22" transform="rotate(-90 171.47 98.35)">100 nmol/L</text>
<text x="180.25" y="98.35" font-size="5.2" text-anchor="end" font-weight="bold" fill="#111" stroke="#111" stroke-width="0.22" transform="rotate(-90 180.25 98.35)">250 nmol/L</text>
<text x="189.03" y="98.35" font-size="5.2" text-anchor="end" font-weight="bold" fill="#111" stroke="#111" stroke-width="0.22" transform="rotate(-90 189.03 98.35)">500 nmol/L</text>
<text x="197.81" y="98.35" font-size="5.2" text-anchor="end" font-weight="bold" fill="#111" stroke="#111" stroke-width="0.22" transform="rotate(-90 197.81 98.35)">1,000 nmol/L</text>
<text x="276.00" y="6.90" font-size="6.9" text-anchor="middle" font-weight="bold" fill="#111" stroke="#111" stroke-width="0.22">GIST48B</text>
<text x="276.00" y="15.10" font-size="6.9" text-anchor="middle" font-weight="bold" fill="#111" stroke="#111" stroke-width="0.22">IM-Resistant</text>
<text x="276.00" y="23.40" font-size="6.9" text-anchor="middle" font-weight="bold" fill="#111" stroke="#111" stroke-width="0.22">(KIT negative)</text>
<text x="219.40" y="62.38" font-size="5.1" text-anchor="middle" font-weight="bold" fill="#111" stroke="#111" stroke-width="0.22" transform="rotate(-90 219.40 62.38)">Relative cell viability</text>
<text x="229.00" y="26.95" font-size="5.0" text-anchor="end" font-weight="bold" fill="#111" stroke="#111" stroke-width="0.22">1.2</text>
<text x="229.00" y="50.13" font-size="5.0" text-anchor="end" font-weight="bold" fill="#111" stroke="#111" stroke-width="0.22">0.8</text>
<text x="229.00" y="73.32" font-size="5.0" text-anchor="end" font-weight="bold" fill="#111" stroke="#111" stroke-width="0.22">0.4</text>
<text x="229.00" y="96.50" font-size="5.0" text-anchor="end" font-weight="bold" fill="#111" stroke="#111" stroke-width="0.22">0.0</text>
<text x="241.40" y="98.35" font-size="5.2" text-anchor="end" font-weight="bold" fill="#111" stroke="#111" stroke-width="0.22" transform="rotate(-90 241.40 98.35)">Ctrl</text>
<text x="250.35" y="98.35" font-size="5.2" text-anchor="end" font-weight="bold" fill="#111" stroke="#111" stroke-width="0.22" transform="rotate(-90 250.35 98.35)">10 nmol/L</text>
<text x="259.30" y="98.35" font-size="5.2" text-anchor="end" font-weight="bold" fill="#111" stroke="#111" stroke-width="0.22" transform="rotate(-90 259.30 98.35)">25 nmol/L</text>
<text x="268.25" y="98.35" font-size="5.2" text-anchor="end" font-weight="bold" fill="#111" stroke="#111" stroke-width="0.22" transform="rotate(-90 268.25 98.35)">50 nmol/L</text>
<text x="277.20" y="98.35" font-size="5.2" text-anchor="end" font-weight="bold" fill="#111" stroke="#111" stroke-width="0.22" transform="rotate(-90 277.20 98.35)">100 nmol/L</text>
<text x="286.15" y="98.35" font-size="5.2" text-anchor="end" font-weight="bold" fill="#111" stroke="#111" stroke-width="0.22" transform="rotate(-90 286.15 98.35)">250 nmol/L</text>
<text x="295.10" y="98.35" font-size="5.2" text-anchor="end" font-weight="bold" fill="#111" stroke="#111" stroke-width="0.22" transform="rotate(-90 295.10 98.35)">500 nmol/L</text>
<text x="304.05" y="98.35" font-size="5.2" text-anchor="end" font-weight="bold" fill="#111" stroke="#111" stroke-width="0.22" transform="rotate(-90 304.05 98.35)">1,000 nmol/L</text>
<text x="380.00" y="11.05" font-size="6.9" text-anchor="middle" font-weight="bold" fill="#111" stroke="#111" stroke-width="0.22">GIST-T1</text>
<text x="380.00" y="19.60" font-size="6.9" text-anchor="middle" font-weight="bold" fill="#111" stroke="#111" stroke-width="0.22">IM-Sensitive</text>
<text x="324.60" y="62.38" font-size="5.1" text-anchor="middle" font-weight="bold" fill="#111" stroke="#111" stroke-width="0.22" transform="rotate(-90 324.60 62.38)">Relative cell viability</text>
<text x="334.20" y="26.95" font-size="5.0" text-anchor="end" font-weight="bold" fill="#111" stroke="#111" stroke-width="0.22">1.2</text>
<text x="334.20" y="50.13" font-size="5.0" text-anchor="end" font-weight="bold" fill="#111" stroke="#111" stroke-width="0.22">0.8</text>
<text x="334.20" y="73.32" font-size="5.0" text-anchor="end" font-weight="bold" fill="#111" stroke="#111" stroke-width="0.22">0.4</text>
<text x="334.20" y="96.50" font-size="5.0" text-anchor="end" font-weight="bold" fill="#111" stroke="#111" stroke-width="0.22">0.0</text>
<text x="347.25" y="98.35" font-size="5.2" text-anchor="end" font-weight="bold" fill="#111" stroke="#111" stroke-width="0.22" transform="rotate(-90 347.25 98.35)">Ctrl</text>
<text x="355.91" y="98.35" font-size="5.2" text-anchor="end" font-weight="bold" fill="#111" stroke="#111" stroke-width="0.22" transform="rotate(-90 355.91 98.35)">10 nmol/L</text>
<text x="364.57" y="98.35" font-size="5.2" text-anchor="end" font-weight="bold" fill="#111" stroke="#111" stroke-width="0.22" transform="rotate(-90 364.57 98.35)">25 nmol/L</text>
<text x="373.23" y="98.35" font-size="5.2" text-anchor="end" font-weight="bold" fill="#111" stroke="#111" stroke-width="0.22" transform="rotate(-90 373.23 98.35)">50 nmol/L</text>
<text x="381.89" y="98.35" font-size="5.2" text-anchor="end" font-weight="bold" fill="#111" stroke="#111" stroke-width="0.22" transform="rotate(-90 381.89 98.35)">100 nmol/L</text>
<text x="390.55" y="98.35" font-size="5.2" text-anchor="end" font-weight="bold" fill="#111" stroke="#111" stroke-width="0.22" transform="rotate(-90 390.55 98.35)">250 nmol/L</text>
<text x="399.21" y="98.35" font-size="5.2" text-anchor="end" font-weight="bold" fill="#111" stroke="#111" stroke-width="0.22" transform="rotate(-90 399.21 98.35)">500 nmol/L</text>
<text x="407.87" y="98.35" font-size="5.2" text-anchor="end" font-weight="bold" fill="#111" stroke="#111" stroke-width="0.22" transform="rotate(-90 407.87 98.35)">1,000 nmol/L</text>
<text x="486.00" y="11.05" font-size="6.9" text-anchor="middle" font-weight="bold" fill="#111" stroke="#111" stroke-width="0.22">GIST882</text>
<text x="486.00" y="19.60" font-size="6.9" text-anchor="middle" font-weight="bold" fill="#111" stroke="#111" stroke-width="0.22">IM-Sensitive</text>
<text x="429.50" y="62.38" font-size="5.1" text-anchor="middle" font-weight="bold" fill="#111" stroke="#111" stroke-width="0.22" transform="rotate(-90 429.50 62.38)">Relative cell viability</text>
<text x="439.10" y="26.95" font-size="5.0" text-anchor="end" font-weight="bold" fill="#111" stroke="#111" stroke-width="0.22">1.2</text>
<text x="439.10" y="50.13" font-size="5.0" text-anchor="end" font-weight="bold" fill="#111" stroke="#111" stroke-width="0.22">0.8</text>
<text x="439.10" y="73.32" font-size="5.0" text-anchor="end" font-weight="bold" fill="#111" stroke="#111" stroke-width="0.22">0.4</text>
<text x="439.10" y="96.50" font-size="5.0" text-anchor="end" font-weight="bold" fill="#111" stroke="#111" stroke-width="0.22">0.0</text>
<text x="452.05" y="98.35" font-size="5.2" text-anchor="end" font-weight="bold" fill="#111" stroke="#111" stroke-width="0.22" transform="rotate(-90 452.05 98.35)">Ctrl</text>
<text x="460.78" y="98.35" font-size="5.2" text-anchor="end" font-weight="bold" fill="#111" stroke="#111" stroke-width="0.22" transform="rotate(-90 460.78 98.35)">10 nmol/L</text>
<text x="469.51" y="98.35" font-size="5.2" text-anchor="end" font-weight="bold" fill="#111" stroke="#111" stroke-width="0.22" transform="rotate(-90 469.51 98.35)">25 nmol/L</text>
<text x="478.24" y="98.35" font-size="5.2" text-anchor="end" font-weight="bold" fill="#111" stroke="#111" stroke-width="0.22" transform="rotate(-90 478.24 98.35)">50 nmol/L</text>
<text x="486.97" y="98.35" font-size="5.2" text-anchor="end" font-weight="bold" fill="#111" stroke="#111" stroke-width="0.22" transform="rotate(-90 486.97 98.35)">100 nmol/L</text>
<text x="495.70" y="98.35" font-size="5.2" text-anchor="end" font-weight="bold" fill="#111" stroke="#111" stroke-width="0.22" transform="rotate(-90 495.70 98.35)">250 nmol/L</text>
<text x="504.43" y="98.35" font-size="5.2" text-anchor="end" font-weight="bold" fill="#111" stroke="#111" stroke-width="0.22" transform="rotate(-90 504.43 98.35)">500 nmol/L</text>
<text x="513.16" y="98.35" font-size="5.2" text-anchor="end" font-weight="bold" fill="#111" stroke="#111" stroke-width="0.22" transform="rotate(-90 513.16 98.35)">1,000 nmol/L</text>
<text x="63.00" y="147.20" font-size="6.9" text-anchor="middle" font-weight="bold" fill="#111" stroke="#111" stroke-width="0.22">GIST-1 primary</text>
<text x="63.00" y="155.50" font-size="6.9" text-anchor="middle" font-weight="bold" fill="#111" stroke="#111" stroke-width="0.22">IM-Resistant</text>
<text x="9.05" y="192.38" font-size="5.1" text-anchor="middle" font-weight="bold" fill="#111" stroke="#111" stroke-width="0.22" transform="rotate(-90 9.05 192.38)">Relative cell viability</text>
<text x="18.65" y="156.95" font-size="5.0" text-anchor="end" font-weight="bold" fill="#111" stroke="#111" stroke-width="0.22">1.2</text>
<text x="18.65" y="180.13" font-size="5.0" text-anchor="end" font-weight="bold" fill="#111" stroke="#111" stroke-width="0.22">0.8</text>
<text x="18.65" y="203.32" font-size="5.0" text-anchor="end" font-weight="bold" fill="#111" stroke="#111" stroke-width="0.22">0.4</text>
<text x="18.65" y="226.50" font-size="5.0" text-anchor="end" font-weight="bold" fill="#111" stroke="#111" stroke-width="0.22">0.0</text>
<text x="31.45" y="228.35" font-size="5.2" text-anchor="end" font-weight="bold" fill="#111" stroke="#111" stroke-width="0.22" transform="rotate(-90 31.45 228.35)">Ctrl</text>
<text x="40.11" y="228.35" font-size="5.2" text-anchor="end" font-weight="bold" fill="#111" stroke="#111" stroke-width="0.22" transform="rotate(-90 40.11 228.35)">10 nmol/L</text>
<text x="48.77" y="228.35" font-size="5.2" text-anchor="end" font-weight="bold" fill="#111" stroke="#111" stroke-width="0.22" transform="rotate(-90 48.77 228.35)">25 nmol/L</text>
<text x="57.43" y="228.35" font-size="5.2" text-anchor="end" font-weight="bold" fill="#111" stroke="#111" stroke-width="0.22" transform="rotate(-90 57.43 228.35)">50 nmol/L</text>
<text x="66.09" y="228.35" font-size="5.2" text-anchor="end" font-weight="bold" fill="#111" stroke="#111" stroke-width="0.22" transform="rotate(-90 66.09 228.35)">100 nmol/L</text>
<text x="74.75" y="228.35" font-size="5.2" text-anchor="end" font-weight="bold" fill="#111" stroke="#111" stroke-width="0.22" transform="rotate(-90 74.75 228.35)">250 nmol/L</text>
<text x="83.41" y="228.35" font-size="5.2" text-anchor="end" font-weight="bold" fill="#111" stroke="#111" stroke-width="0.22" transform="rotate(-90 83.41 228.35)">500 nmol/L</text>
<text x="92.07" y="228.35" font-size="5.2" text-anchor="end" font-weight="bold" fill="#111" stroke="#111" stroke-width="0.22" transform="rotate(-90 92.07 228.35)">1,000 nmol/L</text>
<text x="165.00" y="154.30" font-size="6.9" text-anchor="middle" font-weight="bold" fill="#111" stroke="#111" stroke-width="0.22">BJ</text>
<text x="114.75" y="192.38" font-size="5.1" text-anchor="middle" font-weight="bold" fill="#111" stroke="#111" stroke-width="0.22" transform="rotate(-90 114.75 192.38)">Relative cell viability</text>
<text x="124.35" y="156.95" font-size="5.0" text-anchor="end" font-weight="bold" fill="#111" stroke="#111" stroke-width="0.22">1.2</text>
<text x="124.35" y="180.13" font-size="5.0" text-anchor="end" font-weight="bold" fill="#111" stroke="#111" stroke-width="0.22">0.8</text>
<text x="124.35" y="203.32" font-size="5.0" text-anchor="end" font-weight="bold" fill="#111" stroke="#111" stroke-width="0.22">0.4</text>
<text x="124.35" y="226.50" font-size="5.0" text-anchor="end" font-weight="bold" fill="#111" stroke="#111" stroke-width="0.22">0.0</text>
<text x="136.85" y="228.35" font-size="5.2" text-anchor="end" font-weight="bold" fill="#111" stroke="#111" stroke-width="0.22" transform="rotate(-90 136.85 228.35)">Ctrl</text>
<text x="145.47" y="228.35" font-size="5.2" text-anchor="end" font-weight="bold" fill="#111" stroke="#111" stroke-width="0.22" transform="rotate(-90 145.47 228.35)">10 nmol/L</text>
<text x="154.09" y="228.35" font-size="5.2" text-anchor="end" font-weight="bold" fill="#111" stroke="#111" stroke-width="0.22" transform="rotate(-90 154.09 228.35)">25 nmol/L</text>
<text x="162.71" y="228.35" font-size="5.2" text-anchor="end" font-weight="bold" fill="#111" stroke="#111" stroke-width="0.22" transform="rotate(-90 162.71 228.35)">50 nmol/L</text>
<text x="171.33" y="228.35" font-size="5.2" text-anchor="end" font-weight="bold" fill="#111" stroke="#111" stroke-width="0.22" transform="rotate(-90 171.33 228.35)">100 nmol/L</text>
<text x="179.95" y="228.35" font-size="5.2" text-anchor="end" font-weight="bold" fill="#111" stroke="#111" stroke-width="0.22" transform="rotate(-90 179.95 228.35)">250 nmol/L</text>
<text x="188.57" y="228.35" font-size="5.2" text-anchor="end" font-weight="bold" fill="#111" stroke="#111" stroke-width="0.22" transform="rotate(-90 188.57 228.35)">500 nmol/L</text>
<text x="197.19" y="228.35" font-size="5.2" text-anchor="end" font-weight="bold" fill="#111" stroke="#111" stroke-width="0.22" transform="rotate(-90 197.19 228.35)">1,000 nmol/L</text>
<text transform="translate(1.20 11.90) scale(0.9 1)" font-size="13.8" font-weight="bold" fill="#111" stroke="#111" stroke-width="0.55">A</text>
<text transform="translate(236.09 149.20) scale(0.9 1)" font-size="13.8" font-weight="bold" fill="#111" stroke="#111" stroke-width="0.55">B</text>
<text transform="translate(236.22 232.90) scale(0.9 1)" font-size="13.8" font-weight="bold" fill="#111" stroke="#111" stroke-width="0.55">C</text>
<text transform="translate(2.79 265.00) scale(0.9 1)" font-size="13.8" font-weight="bold" fill="#111" stroke="#111" stroke-width="0.55">D</text>
<text transform="translate(9.54 441.20) scale(0.9 1)" font-size="13.8" font-weight="bold" fill="#111" stroke="#111" stroke-width="0.55">E</text>
<text transform="translate(186.49 441.00) scale(0.9 1)" font-size="13.8" font-weight="bold" fill="#111" stroke="#111" stroke-width="0.55">F</text>
<text transform="translate(344.12 441.10) scale(0.9 1)" font-size="13.8" font-weight="bold" fill="#111" stroke="#111" stroke-width="0.55">G</text>
<text transform="translate(243.89 316.00) scale(0.9 1)" font-size="13.8" font-weight="bold" fill="#111" stroke="#111" stroke-width="0.55">H</text>
<text transform="translate(9.62 577.70) scale(0.9 1)" font-size="13.8" font-weight="bold" fill="#111" stroke="#111" stroke-width="0.55">I</text>
<text transform="translate(184.55 577.70) scale(0.9 1)" font-size="13.8" font-weight="bold" fill="#111" stroke="#111" stroke-width="0.55">J</text>
<text transform="translate(342.79 577.70) scale(0.9 1)" font-size="13.8" font-weight="bold" fill="#111" stroke="#111" stroke-width="0.55">K</text>
<text x="260.35" y="172.70" font-size="6.7" text-anchor="middle" font-weight="bold" fill="#111" stroke="#111" stroke-width="0.22">Cell line</text>
<text x="300.65" y="172.70" font-size="6.7" text-anchor="middle" font-weight="bold" fill="#111" stroke="#111" stroke-width="0.22">GIST430/654</text>
<text x="300.65" y="196.30" font-size="6.5" text-anchor="middle" font-weight="bold" fill="#111" stroke="#111" stroke-width="0.22">146.9</text>
<text x="335.80" y="172.70" font-size="6.7" text-anchor="middle" font-weight="bold" fill="#111" stroke="#111" stroke-width="0.22">GIST48</text>
<text x="335.80" y="196.30" font-size="6.5" text-anchor="middle" font-weight="bold" fill="#111" stroke="#111" stroke-width="0.22">108.4</text>
<text x="364.85" y="172.70" font-size="6.7" text-anchor="middle" font-weight="bold" fill="#111" stroke="#111" stroke-width="0.22">GIST48B</text>
<text x="364.85" y="196.30" font-size="6.5" text-anchor="middle" font-weight="bold" fill="#111" stroke="#111" stroke-width="0.22">129.5</text>
<text x="395.20" y="172.70" font-size="6.7" text-anchor="middle" font-weight="bold" fill="#111" stroke="#111" stroke-width="0.22">GIST-T1</text>
<text x="395.20" y="196.30" font-size="6.5" text-anchor="middle" font-weight="bold" fill="#111" stroke="#111" stroke-width="0.22">140.2</text>
<text x="424.60" y="172.70" font-size="6.7" text-anchor="middle" font-weight="bold" fill="#111" stroke="#111" stroke-width="0.22">GIST882</text>
<text x="424.60" y="196.30" font-size="6.5" text-anchor="middle" font-weight="bold" fill="#111" stroke="#111" stroke-width="0.22">286.5</text>
<text x="467.00" y="172.70" font-size="6.7" text-anchor="middle" font-weight="bold" fill="#111" stroke="#111" stroke-width="0.22">GIST-1 primary</text>
<text x="467.00" y="196.30" font-size="6.5" text-anchor="middle" font-weight="bold" fill="#111" stroke="#111" stroke-width="0.22">562.7</text>
<text x="504.10" y="172.70" font-size="6.7" text-anchor="middle" font-weight="bold" fill="#111" stroke="#111" stroke-width="0.22">BJ</text>
<text x="504.10" y="196.30" font-size="6.5" text-anchor="middle" font-weight="bold" fill="#111" stroke="#111" stroke-width="0.22">760.3</text>
<text x="260.35" y="186.60" font-size="6.6" text-anchor="middle" font-weight="bold" fill="#111" stroke="#111" stroke-width="0.22">RO-3306</text>
<text x="260.35" y="194.60" font-size="6.6" text-anchor="middle" font-weight="bold" fill="#111" stroke="#111" stroke-width="0.22">IC<tspan font-size="4.2" dy="1.5">50</tspan></text>
<text x="260.35" y="203.00" font-size="6.6" text-anchor="middle" font-weight="bold" fill="#111" stroke="#111" stroke-width="0.22">(nmol/L)</text>
<text x="329.00" y="269.60" font-size="6.4" text-anchor="end" font-weight="bold" fill="#111" stroke="#111" stroke-width="0.22">CDK1</text>
<text x="329.00" y="292.90" font-size="6.4" text-anchor="end" font-weight="bold" fill="#111" stroke="#111" stroke-width="0.22">GAPDH</text>
<text x="343.74" y="255.47" font-size="7.0" text-anchor="start" font-weight="normal" fill="#222" stroke="#222" stroke-width="0.12" transform="rotate(-47 343.74 255.47)">GIST430/654</text>
<text x="357.20" y="255.47" font-size="7.0" text-anchor="start" font-weight="normal" fill="#222" stroke="#222" stroke-width="0.12" transform="rotate(-47 357.20 255.47)">GIST48</text>
<text x="370.67" y="255.47" font-size="7.0" text-anchor="start" font-weight="normal" fill="#222" stroke="#222" stroke-width="0.12" transform="rotate(-47 370.67 255.47)">GIST48B</text>
<text x="383.32" y="255.47" font-size="7.0" text-anchor="start" font-weight="normal" fill="#222" stroke="#222" stroke-width="0.12" transform="rotate(-47 383.32 255.47)">GIST-T1</text>
<text x="395.98" y="255.47" font-size="7.0" text-anchor="start" font-weight="normal" fill="#222" stroke="#222" stroke-width="0.12" transform="rotate(-47 395.98 255.47)">GIST882</text>
<text x="406.75" y="255.47" font-size="7.0" text-anchor="start" font-weight="normal" fill="#222" stroke="#222" stroke-width="0.12" transform="rotate(-47 406.75 255.47)">GIST-1 primary</text>
<text x="417.52" y="255.47" font-size="7.0" text-anchor="start" font-weight="normal" fill="#222" stroke="#222" stroke-width="0.12" transform="rotate(-47 417.52 255.47)">BJ</text>
<text x="63.50" y="280.90" font-size="6.3" text-anchor="middle" font-weight="bold" fill="#111" stroke="#111" stroke-width="0.22">GIST430/654</text>
<text x="101.50" y="280.90" font-size="6.3" text-anchor="middle" font-weight="bold" fill="#111" stroke="#111" stroke-width="0.22">GIST48</text>
<text x="137.40" y="280.90" font-size="6.3" text-anchor="middle" font-weight="bold" fill="#111" stroke="#111" stroke-width="0.22">GIST-T1</text>
<text x="172.00" y="280.90" font-size="6.3" text-anchor="middle" font-weight="bold" fill="#111" stroke="#111" stroke-width="0.22">GIST882</text>
<text x="212.40" y="280.90" font-size="6.3" text-anchor="middle" font-weight="bold" fill="#111" stroke="#111" stroke-width="0.22">GIST-1 primary</text>
<text x="46.00" y="291.40" font-size="6.3" text-anchor="end" font-weight="bold" fill="#111" stroke="#111" stroke-width="0.22">RO-3306</text>
<text x="5.80" y="308.60" font-size="7.8" text-anchor="start" font-weight="bold" fill="#111" stroke="#111" stroke-width="0.22">pAKT<tspan font-size="5.8" dy="-2.7" stroke-width="0.08">Ser473</tspan></text>
<text x="5.80" y="329.00" font-size="7.8" text-anchor="start" font-weight="bold" fill="#111" stroke="#111" stroke-width="0.22">pAKT<tspan font-size="5.8" dy="-2.7" stroke-width="0.08">Thr308</tspan></text>
<text x="23.00" y="349.40" font-size="7.6" text-anchor="middle" font-weight="bold" fill="#111" stroke="#111" stroke-width="0.22">AKT</text>
<text x="23.60" y="373.00" font-size="7.6" text-anchor="middle" font-weight="bold" fill="#111" stroke="#111" stroke-width="0.22">GAPDH</text>
<text x="291.80" y="330.10" font-size="5.1" text-anchor="end" font-weight="bold" fill="#111" stroke="#111" stroke-width="0.22">Imatinib (50 nmol/L)</text>
<text x="291.80" y="338.80" font-size="5.1" text-anchor="end" font-weight="bold" fill="#111" stroke="#111" stroke-width="0.22">RO-3306 (50 nmol/L)</text>
<text x="291.80" y="347.40" font-size="5.1" text-anchor="end" font-weight="bold" fill="#111" stroke="#111" stroke-width="0.22">Multiplication</text>
<text x="291.80" y="356.00" font-size="5.1" text-anchor="end" font-weight="bold" fill="#111" stroke="#111" stroke-width="0.22">Combination</text>
<text x="291.80" y="370.40" font-size="5.1" text-anchor="end" font-weight="bold" fill="#111" stroke="#111" stroke-width="0.22">Imatinib (50 nmol/L)</text>
<text x="291.80" y="378.80" font-size="5.1" text-anchor="end" font-weight="bold" fill="#111" stroke="#111" stroke-width="0.22">RO-3306 (100 nmol/L)</text>
<text x="291.80" y="387.50" font-size="5.1" text-anchor="end" font-weight="bold" fill="#111" stroke="#111" stroke-width="0.22">Multiplication</text>
<text x="291.80" y="395.80" font-size="5.1" text-anchor="end" font-weight="bold" fill="#111" stroke="#111" stroke-width="0.22">Combination</text>
<text x="297.30" y="409.80" font-size="5.5" text-anchor="middle" font-weight="bold" fill="#111" stroke="#111" stroke-width="0.22">0.0</text>
<text x="340.98" y="409.80" font-size="5.5" text-anchor="middle" font-weight="bold" fill="#111" stroke="#111" stroke-width="0.22">0.2</text>
<text x="384.66" y="409.80" font-size="5.5" text-anchor="middle" font-weight="bold" fill="#111" stroke="#111" stroke-width="0.22">0.4</text>
<text x="428.34" y="409.80" font-size="5.5" text-anchor="middle" font-weight="bold" fill="#111" stroke="#111" stroke-width="0.22">0.6</text>
<text x="472.02" y="409.80" font-size="5.5" text-anchor="middle" font-weight="bold" fill="#111" stroke="#111" stroke-width="0.22">0.8</text>
<text x="515.70" y="409.80" font-size="5.5" text-anchor="middle" font-weight="bold" fill="#111" stroke="#111" stroke-width="0.22">1.0</text>
<text x="406.00" y="419.60" font-size="6.2" text-anchor="middle" font-weight="bold" fill="#111" stroke="#111" stroke-width="0.22">Relative cell viability</text>
<text x="112.50" y="441.80" font-size="6.9" text-anchor="middle" font-weight="bold" fill="#111" stroke="#111" stroke-width="0.22"><tspan font-style="italic">KIT</tspan> exon11 deletion/N822K</text>
<text x="112.50" y="450.40" font-size="6.9" text-anchor="middle" font-weight="bold" fill="#111" stroke="#111" stroke-width="0.22">(PDX model)</text>
<text x="41.75" y="536.20" font-size="4.9" text-anchor="end" font-weight="bold" fill="#111" stroke="#111" stroke-width="0.22">0</text>
<text x="41.75" y="509.60" font-size="4.9" text-anchor="end" font-weight="bold" fill="#111" stroke="#111" stroke-width="0.22">200</text>
<text x="41.75" y="483.00" font-size="4.9" text-anchor="end" font-weight="bold" fill="#111" stroke="#111" stroke-width="0.22">400</text>
<text x="41.75" y="456.40" font-size="4.9" text-anchor="end" font-weight="bold" fill="#111" stroke="#111" stroke-width="0.22">600</text>
<text x="46.05" y="543.50" font-size="5.1" text-anchor="middle" font-weight="bold" fill="#111" stroke="#111" stroke-width="0.22">0</text>
<text x="85.75" y="543.50" font-size="5.1" text-anchor="middle" font-weight="bold" fill="#111" stroke="#111" stroke-width="0.22">10</text>
<text x="125.45" y="543.50" font-size="5.1" text-anchor="middle" font-weight="bold" fill="#111" stroke="#111" stroke-width="0.22">20</text>
<text x="165.15" y="543.50" font-size="5.1" text-anchor="middle" font-weight="bold" fill="#111" stroke="#111" stroke-width="0.22">30</text>
<text x="104.50" y="551.00" font-size="6.3" text-anchor="middle" font-weight="bold" fill="#111" stroke="#111" stroke-width="0.22">Days after the start of treatment</text>
<text x="22.60" y="495.00" font-size="6.3" text-anchor="middle" font-weight="bold" fill="#111" stroke="#111" stroke-width="0.22" transform="rotate(-90 22.60 495.00)">Relative tumor volume</text>
<text x="30.60" y="495.00" font-size="6.3" text-anchor="middle" font-weight="bold" fill="#111" stroke="#111" stroke-width="0.22" transform="rotate(-90 30.60 495.00)">compare to baseline (%)</text>
<text x="67.30" y="467.50" font-size="5.2" text-anchor="start" font-weight="normal" fill="#222" stroke="#222" stroke-width="0.12">Vehicle</text>
<text x="67.30" y="473.20" font-size="5.2" text-anchor="start" font-weight="normal" fill="#222" stroke="#222" stroke-width="0.12">Imatinib 50 mg/kg twice a day</text>
<text x="67.30" y="479.00" font-size="5.2" text-anchor="start" font-weight="normal" fill="#222" stroke="#222" stroke-width="0.12">RO-3306 4 mg/kg every 2 days</text>
<text x="161.90" y="508.60" font-size="4.5" text-anchor="middle" font-weight="normal" fill="#222" stroke="#222" stroke-width="0.12" transform="rotate(90 161.90 508.60)">**</text>
<text x="369.40" y="533.50" font-size="4.9" text-anchor="end" font-weight="bold" fill="#111" stroke="#111" stroke-width="0.22">0</text>
<text x="369.40" y="508.57" font-size="4.9" text-anchor="end" font-weight="bold" fill="#111" stroke="#111" stroke-width="0.22">10</text>
<text x="369.40" y="483.64" font-size="4.9" text-anchor="end" font-weight="bold" fill="#111" stroke="#111" stroke-width="0.22">20</text>
<text x="369.40" y="458.71" font-size="4.9" text-anchor="end" font-weight="bold" fill="#111" stroke="#111" stroke-width="0.22">30</text>
<text x="373.70" y="542.10" font-size="5.1" text-anchor="middle" font-weight="bold" fill="#111" stroke="#111" stroke-width="0.22">0</text>
<text x="418.80" y="542.10" font-size="5.1" text-anchor="middle" font-weight="bold" fill="#111" stroke="#111" stroke-width="0.22">10</text>
<text x="463.90" y="542.10" font-size="5.1" text-anchor="middle" font-weight="bold" fill="#111" stroke="#111" stroke-width="0.22">20</text>
<text x="509.00" y="542.10" font-size="5.1" text-anchor="middle" font-weight="bold" fill="#111" stroke="#111" stroke-width="0.22">30</text>
<text x="439.30" y="551.00" font-size="6.3" text-anchor="middle" font-weight="bold" fill="#111" stroke="#111" stroke-width="0.22">Days after the start of treatment</text>
<text x="358.30" y="495.40" font-size="6.0" text-anchor="middle" font-weight="bold" fill="#111" stroke="#111" stroke-width="0.22" transform="rotate(-90 358.30 495.40)">Body weight (g)</text>
<text x="398.00" y="499.90" font-size="5.2" text-anchor="start" font-weight="normal" fill="#222" stroke="#222" stroke-width="0.12">Vehicle</text>
<text x="398.00" y="506.70" font-size="5.2" text-anchor="start" font-weight="normal" fill="#222" stroke="#222" stroke-width="0.12">Imatinib 50 mg/kg twice a day</text>
<text x="398.00" y="514.40" font-size="5.2" text-anchor="start" font-weight="normal" fill="#222" stroke="#222" stroke-width="0.12">RO-3306 4 mg/kg every 2 days</text>
<text x="369.70" y="669.70" font-size="4.9" text-anchor="end" font-weight="bold" fill="#111" stroke="#111" stroke-width="0.22">0</text>
<text x="369.70" y="644.93" font-size="4.9" text-anchor="end" font-weight="bold" fill="#111" stroke="#111" stroke-width="0.22">10</text>
<text x="369.70" y="620.16" font-size="4.9" text-anchor="end" font-weight="bold" fill="#111" stroke="#111" stroke-width="0.22">20</text>
<text x="369.70" y="595.39" font-size="4.9" text-anchor="end" font-weight="bold" fill="#111" stroke="#111" stroke-width="0.22">30</text>
<text x="374.00" y="678.20" font-size="5.1" text-anchor="middle" font-weight="bold" fill="#111" stroke="#111" stroke-width="0.22">0</text>
<text x="419.10" y="678.20" font-size="5.1" text-anchor="middle" font-weight="bold" fill="#111" stroke="#111" stroke-width="0.22">10</text>
<text x="464.20" y="678.20" font-size="5.1" text-anchor="middle" font-weight="bold" fill="#111" stroke="#111" stroke-width="0.22">20</text>
<text x="509.30" y="678.20" font-size="5.1" text-anchor="middle" font-weight="bold" fill="#111" stroke="#111" stroke-width="0.22">30</text>
<text x="439.30" y="686.40" font-size="6.3" text-anchor="middle" font-weight="bold" fill="#111" stroke="#111" stroke-width="0.22">Days after the start of treatment</text>
<text x="358.30" y="631.85" font-size="6.0" text-anchor="middle" font-weight="bold" fill="#111" stroke="#111" stroke-width="0.22" transform="rotate(-90 358.30 631.85)">Body weight (g)</text>
<text x="398.60" y="634.30" font-size="5.32" text-anchor="start" font-weight="normal" fill="#222" stroke="#222" stroke-width="0.12">Vehicle</text>
<text x="398.60" y="641.30" font-size="5.32" text-anchor="start" font-weight="normal" fill="#222" stroke="#222" stroke-width="0.12">Imatinib 25 mg/kg twice a day</text>
<text x="398.60" y="648.50" font-size="5.32" text-anchor="start" font-weight="normal" fill="#222" stroke="#222" stroke-width="0.12">RO-3306 4 mg/kg every 2 days</text>
<text x="398.60" y="655.70" font-size="5.32" text-anchor="start" font-weight="normal" fill="#222" stroke="#222" stroke-width="0.12">RO-3306 + Imatinib</text>
<text x="111.50" y="577.70" font-size="6.9" text-anchor="middle" font-weight="bold" fill="#111" stroke="#111" stroke-width="0.22"><tspan font-style="italic">KIT</tspan> exon11 deletion</text>
<text x="111.50" y="586.30" font-size="6.9" text-anchor="middle" font-weight="bold" fill="#111" stroke="#111" stroke-width="0.22">(GIST-T1 xenograft)</text>
<text x="44.20" y="672.50" font-size="5.3" text-anchor="end" font-weight="bold" fill="#111" stroke="#111" stroke-width="0.22">0</text>
<text x="44.20" y="656.66" font-size="5.3" text-anchor="end" font-weight="bold" fill="#111" stroke="#111" stroke-width="0.22">200</text>
<text x="44.20" y="640.82" font-size="5.3" text-anchor="end" font-weight="bold" fill="#111" stroke="#111" stroke-width="0.22">400</text>
<text x="44.20" y="624.98" font-size="5.3" text-anchor="end" font-weight="bold" fill="#111" stroke="#111" stroke-width="0.22">600</text>
<text x="44.20" y="609.14" font-size="5.3" text-anchor="end" font-weight="bold" fill="#111" stroke="#111" stroke-width="0.22">800</text>
<text x="44.20" y="593.30" font-size="5.3" text-anchor="end" font-weight="bold" fill="#111" stroke="#111" stroke-width="0.22">1,000</text>
<text x="48.50" y="680.20" font-size="5.1" text-anchor="middle" font-weight="bold" fill="#111" stroke="#111" stroke-width="0.22">0</text>
<text x="87.80" y="680.20" font-size="5.1" text-anchor="middle" font-weight="bold" fill="#111" stroke="#111" stroke-width="0.22">10</text>
<text x="127.10" y="680.20" font-size="5.1" text-anchor="middle" font-weight="bold" fill="#111" stroke="#111" stroke-width="0.22">20</text>
<text x="166.40" y="680.20" font-size="5.1" text-anchor="middle" font-weight="bold" fill="#111" stroke="#111" stroke-width="0.22">30</text>
<text x="105.60" y="686.60" font-size="6.3" text-anchor="middle" font-weight="bold" fill="#111" stroke="#111" stroke-width="0.22">Days after the start of treatment</text>
<text x="21.00" y="632.30" font-size="6.3" text-anchor="middle" font-weight="bold" fill="#111" stroke="#111" stroke-width="0.22" transform="rotate(-90 21.00 632.30)">Relative tumor volume</text>
<text x="28.80" y="632.30" font-size="6.3" text-anchor="middle" font-weight="bold" fill="#111" stroke="#111" stroke-width="0.22" transform="rotate(-90 28.80 632.30)">compare to baseline (%)</text>
<text x="66.70" y="604.20" font-size="5.45" text-anchor="start" font-weight="normal" fill="#222" stroke="#222" stroke-width="0.12">Vehicle</text>
<text x="66.70" y="610.40" font-size="5.45" text-anchor="start" font-weight="normal" fill="#222" stroke="#222" stroke-width="0.12">Imatinib 25 mg/kg twice a day</text>
<text x="66.70" y="616.70" font-size="5.45" text-anchor="start" font-weight="normal" fill="#222" stroke="#222" stroke-width="0.12">RO-3306 4 mg/kg every 2 days</text>
<text x="66.70" y="622.90" font-size="5.45" text-anchor="start" font-weight="normal" fill="#222" stroke="#222" stroke-width="0.12">RO-3306 + Imatinib</text>
<text x="166.30" y="635.00" font-size="4.2" text-anchor="middle" font-weight="normal" fill="#333" stroke="#333" stroke-width="0.12" transform="rotate(90 166.30 635.00)">*</text>
<text x="170.30" y="633.10" font-size="4.2" text-anchor="middle" font-weight="normal" fill="#333" stroke="#333" stroke-width="0.12" transform="rotate(90 170.30 633.10)">*</text>
<text x="170.50" y="661.60" font-size="4.2" text-anchor="middle" font-weight="normal" fill="#333" stroke="#333" stroke-width="0.12" transform="rotate(90 170.50 661.60)">**</text>
<text x="166.50" y="664.00" font-size="4.2" text-anchor="middle" font-weight="normal" fill="#333" stroke="#333" stroke-width="0.12" transform="rotate(90 166.50 664.00)">*</text>
<text x="214.90" y="528.11" font-size="6.4" text-anchor="end" font-weight="bold" fill="#111" stroke="#111" stroke-width="0.22">0.0</text>
<text x="214.90" y="501.81" font-size="6.4" text-anchor="end" font-weight="bold" fill="#111" stroke="#111" stroke-width="0.22">0.1</text>
<text x="214.90" y="475.51" font-size="6.4" text-anchor="end" font-weight="bold" fill="#111" stroke="#111" stroke-width="0.22">0.2</text>
<text x="214.90" y="449.21" font-size="6.4" text-anchor="end" font-weight="bold" fill="#111" stroke="#111" stroke-width="0.22">0.3</text>
<text x="201.80" y="487.60" font-size="6.8" text-anchor="middle" font-weight="bold" fill="#111" stroke="#111" stroke-width="0.22" transform="rotate(-90 201.80 487.60)">Tumor weight (g)</text>
<text x="245.40" y="530.40" font-size="6.5" text-anchor="end" font-weight="bold" fill="#111" stroke="#111" stroke-width="0.22" transform="rotate(-45 245.40 530.40)">Vehicle</text>
<text x="274.25" y="530.40" font-size="6.5" text-anchor="end" font-weight="bold" fill="#111" stroke="#111" stroke-width="0.22" transform="rotate(-45 274.25 530.40)">Imatinib</text>
<text x="302.85" y="530.40" font-size="6.5" text-anchor="end" font-weight="bold" fill="#111" stroke="#111" stroke-width="0.22" transform="rotate(-45 302.85 530.40)">RO-3306</text>
<text x="271.70" y="452.30" font-size="6.4" text-anchor="middle" font-weight="normal" fill="#222" stroke="#222" stroke-width="0.12">****</text>
<text x="215.44" y="675.52" font-size="5.5" text-anchor="end" font-weight="bold" fill="#111" stroke="#111" stroke-width="0.22">0.0</text>
<text x="215.44" y="662.88" font-size="5.5" text-anchor="end" font-weight="bold" fill="#111" stroke="#111" stroke-width="0.22">0.1</text>
<text x="215.44" y="650.24" font-size="5.5" text-anchor="end" font-weight="bold" fill="#111" stroke="#111" stroke-width="0.22">0.2</text>
<text x="215.44" y="637.60" font-size="5.5" text-anchor="end" font-weight="bold" fill="#111" stroke="#111" stroke-width="0.22">0.3</text>
<text x="215.44" y="624.96" font-size="5.5" text-anchor="end" font-weight="bold" fill="#111" stroke="#111" stroke-width="0.22">0.4</text>
<text x="215.44" y="612.32" font-size="5.5" text-anchor="end" font-weight="bold" fill="#111" stroke="#111" stroke-width="0.22">0.5</text>
<text x="215.44" y="599.68" font-size="5.5" text-anchor="end" font-weight="bold" fill="#111" stroke="#111" stroke-width="0.22">0.6</text>
<text x="215.44" y="587.04" font-size="5.5" text-anchor="end" font-weight="bold" fill="#111" stroke="#111" stroke-width="0.22">0.7</text>
<text x="201.40" y="630.45" font-size="6.4" text-anchor="middle" font-weight="bold" fill="#111" stroke="#111" stroke-width="0.22" transform="rotate(-90 201.40 630.45)">Tumor weight (g)</text>
<text x="236.45" y="678.10" font-size="5.7" text-anchor="end" font-weight="bold" fill="#111" stroke="#111" stroke-width="0.22" transform="rotate(-45 236.45 678.10)">Vehicle</text>
<text x="261.70" y="678.10" font-size="5.7" text-anchor="end" font-weight="bold" fill="#111" stroke="#111" stroke-width="0.22" transform="rotate(-45 261.70 678.10)">Imatinib</text>
<text x="286.80" y="678.10" font-size="5.7" text-anchor="end" font-weight="bold" fill="#111" stroke="#111" stroke-width="0.22" transform="rotate(-45 286.80 678.10)">RO-3306</text>
<text x="312.20" y="678.10" font-size="5.7" text-anchor="end" font-weight="bold" fill="#111" stroke="#111" stroke-width="0.22" transform="rotate(-45 312.20 678.10)">RO + Imatinib</text>
<text x="273.70" y="588.80" font-size="6.4" text-anchor="middle" font-weight="normal" fill="#222" stroke="#222" stroke-width="0.12">****</text>
<text x="257.90" y="595.10" font-size="6.4" text-anchor="middle" font-weight="normal" fill="#222" stroke="#222" stroke-width="0.12">****</text>
<text x="246.90" y="600.90" font-size="6.4" text-anchor="middle" font-weight="normal" fill="#222" stroke="#222" stroke-width="0.12">****</text>
</g>
</svg>
</body></html>
